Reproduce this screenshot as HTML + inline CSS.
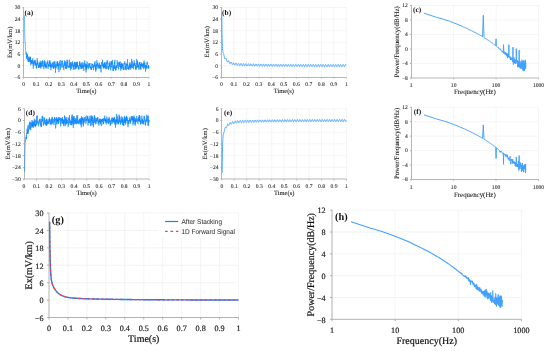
<!DOCTYPE html>
<html><head><meta charset="utf-8"><title>figure</title>
<style>html,body{margin:0;padding:0;background:#fff;width:550px;height:351px;overflow:hidden}svg{display:block;text-rendering:geometricPrecision}</style>
</head><body>
<svg width="550" height="351" viewBox="0 0 550 351">
<line x1="23.6" y1="7.5" x2="149" y2="7.5" stroke="#efefef" stroke-width="0.6"/>
<line x1="23.6" y1="19.13" x2="149" y2="19.13" stroke="#efefef" stroke-width="0.6"/>
<line x1="23.6" y1="30.77" x2="149" y2="30.77" stroke="#efefef" stroke-width="0.6"/>
<line x1="23.6" y1="42.4" x2="149" y2="42.4" stroke="#efefef" stroke-width="0.6"/>
<line x1="23.6" y1="54.03" x2="149" y2="54.03" stroke="#efefef" stroke-width="0.6"/>
<line x1="23.6" y1="65.67" x2="149" y2="65.67" stroke="#efefef" stroke-width="0.6"/>
<line x1="36.14" y1="7.5" x2="36.14" y2="77.3" stroke="#efefef" stroke-width="0.6"/>
<line x1="48.68" y1="7.5" x2="48.68" y2="77.3" stroke="#efefef" stroke-width="0.6"/>
<line x1="61.22" y1="7.5" x2="61.22" y2="77.3" stroke="#efefef" stroke-width="0.6"/>
<line x1="73.76" y1="7.5" x2="73.76" y2="77.3" stroke="#efefef" stroke-width="0.6"/>
<line x1="86.3" y1="7.5" x2="86.3" y2="77.3" stroke="#efefef" stroke-width="0.6"/>
<line x1="98.84" y1="7.5" x2="98.84" y2="77.3" stroke="#efefef" stroke-width="0.6"/>
<line x1="111.38" y1="7.5" x2="111.38" y2="77.3" stroke="#efefef" stroke-width="0.6"/>
<line x1="123.92" y1="7.5" x2="123.92" y2="77.3" stroke="#efefef" stroke-width="0.6"/>
<line x1="136.46" y1="7.5" x2="136.46" y2="77.3" stroke="#efefef" stroke-width="0.6"/>
<line x1="149" y1="7.5" x2="149" y2="77.3" stroke="#efefef" stroke-width="0.6"/>
<line x1="23.5" y1="7.2" x2="23.5" y2="77.5" stroke="#a9a9a9" stroke-width="0.85"/>
<line x1="23.5" y1="77.5" x2="149" y2="77.5" stroke="#a9a9a9" stroke-width="0.85"/>
<line x1="22.3" y1="7.5" x2="23.6" y2="7.5" stroke="#a9a9a9" stroke-width="0.85"/>
<line x1="22.3" y1="19.13" x2="23.6" y2="19.13" stroke="#a9a9a9" stroke-width="0.85"/>
<line x1="22.3" y1="30.77" x2="23.6" y2="30.77" stroke="#a9a9a9" stroke-width="0.85"/>
<line x1="22.3" y1="42.4" x2="23.6" y2="42.4" stroke="#a9a9a9" stroke-width="0.85"/>
<line x1="22.3" y1="54.03" x2="23.6" y2="54.03" stroke="#a9a9a9" stroke-width="0.85"/>
<line x1="22.3" y1="65.67" x2="23.6" y2="65.67" stroke="#a9a9a9" stroke-width="0.85"/>
<line x1="22.3" y1="77.3" x2="23.6" y2="77.3" stroke="#a9a9a9" stroke-width="0.85"/>
<line x1="23.6" y1="77.3" x2="23.6" y2="78.6" stroke="#a9a9a9" stroke-width="0.85"/>
<line x1="36.14" y1="77.3" x2="36.14" y2="78.6" stroke="#a9a9a9" stroke-width="0.85"/>
<line x1="48.68" y1="77.3" x2="48.68" y2="78.6" stroke="#a9a9a9" stroke-width="0.85"/>
<line x1="61.22" y1="77.3" x2="61.22" y2="78.6" stroke="#a9a9a9" stroke-width="0.85"/>
<line x1="73.76" y1="77.3" x2="73.76" y2="78.6" stroke="#a9a9a9" stroke-width="0.85"/>
<line x1="86.3" y1="77.3" x2="86.3" y2="78.6" stroke="#a9a9a9" stroke-width="0.85"/>
<line x1="98.84" y1="77.3" x2="98.84" y2="78.6" stroke="#a9a9a9" stroke-width="0.85"/>
<line x1="111.38" y1="77.3" x2="111.38" y2="78.6" stroke="#a9a9a9" stroke-width="0.85"/>
<line x1="123.92" y1="77.3" x2="123.92" y2="78.6" stroke="#a9a9a9" stroke-width="0.85"/>
<line x1="136.46" y1="77.3" x2="136.46" y2="78.6" stroke="#a9a9a9" stroke-width="0.85"/>
<line x1="149" y1="77.3" x2="149" y2="78.6" stroke="#a9a9a9" stroke-width="0.85"/>
<text transform="translate(20.3 9.4) scale(0.1)" font-size="56" text-anchor="end" fill="#222222" font-weight="normal" font-family="'Liberation Serif', 'Times New Roman', serif" stroke="#222222" stroke-width="0.7">30</text>
<text transform="translate(20.3 21.04) scale(0.1)" font-size="56" text-anchor="end" fill="#222222" font-weight="normal" font-family="'Liberation Serif', 'Times New Roman', serif" stroke="#222222" stroke-width="0.7">24</text>
<text transform="translate(20.3 32.67) scale(0.1)" font-size="56" text-anchor="end" fill="#222222" font-weight="normal" font-family="'Liberation Serif', 'Times New Roman', serif" stroke="#222222" stroke-width="0.7">18</text>
<text transform="translate(20.3 44.3) scale(0.1)" font-size="56" text-anchor="end" fill="#222222" font-weight="normal" font-family="'Liberation Serif', 'Times New Roman', serif" stroke="#222222" stroke-width="0.7">12</text>
<text transform="translate(20.3 55.94) scale(0.1)" font-size="56" text-anchor="end" fill="#222222" font-weight="normal" font-family="'Liberation Serif', 'Times New Roman', serif" stroke="#222222" stroke-width="0.7">6</text>
<text transform="translate(20.3 67.57) scale(0.1)" font-size="56" text-anchor="end" fill="#222222" font-weight="normal" font-family="'Liberation Serif', 'Times New Roman', serif" stroke="#222222" stroke-width="0.7">0</text>
<text transform="translate(20.3 79.2) scale(0.1)" font-size="56" text-anchor="end" fill="#222222" font-weight="normal" font-family="'Liberation Serif', 'Times New Roman', serif" stroke="#222222" stroke-width="0.7">−6</text>
<text transform="translate(23.6 85.8) scale(0.1)" font-size="56" text-anchor="middle" fill="#222222" font-weight="normal" font-family="'Liberation Serif', 'Times New Roman', serif" stroke="#222222" stroke-width="0.7">0</text>
<text transform="translate(36.14 85.8) scale(0.1)" font-size="56" text-anchor="middle" fill="#222222" font-weight="normal" font-family="'Liberation Serif', 'Times New Roman', serif" stroke="#222222" stroke-width="0.7">0.1</text>
<text transform="translate(48.68 85.8) scale(0.1)" font-size="56" text-anchor="middle" fill="#222222" font-weight="normal" font-family="'Liberation Serif', 'Times New Roman', serif" stroke="#222222" stroke-width="0.7">0.2</text>
<text transform="translate(61.22 85.8) scale(0.1)" font-size="56" text-anchor="middle" fill="#222222" font-weight="normal" font-family="'Liberation Serif', 'Times New Roman', serif" stroke="#222222" stroke-width="0.7">0.3</text>
<text transform="translate(73.76 85.8) scale(0.1)" font-size="56" text-anchor="middle" fill="#222222" font-weight="normal" font-family="'Liberation Serif', 'Times New Roman', serif" stroke="#222222" stroke-width="0.7">0.4</text>
<text transform="translate(86.3 85.8) scale(0.1)" font-size="56" text-anchor="middle" fill="#222222" font-weight="normal" font-family="'Liberation Serif', 'Times New Roman', serif" stroke="#222222" stroke-width="0.7">0.5</text>
<text transform="translate(98.84 85.8) scale(0.1)" font-size="56" text-anchor="middle" fill="#222222" font-weight="normal" font-family="'Liberation Serif', 'Times New Roman', serif" stroke="#222222" stroke-width="0.7">0.6</text>
<text transform="translate(111.38 85.8) scale(0.1)" font-size="56" text-anchor="middle" fill="#222222" font-weight="normal" font-family="'Liberation Serif', 'Times New Roman', serif" stroke="#222222" stroke-width="0.7">0.7</text>
<text transform="translate(123.92 85.8) scale(0.1)" font-size="56" text-anchor="middle" fill="#222222" font-weight="normal" font-family="'Liberation Serif', 'Times New Roman', serif" stroke="#222222" stroke-width="0.7">0.8</text>
<text transform="translate(136.46 85.8) scale(0.1)" font-size="56" text-anchor="middle" fill="#222222" font-weight="normal" font-family="'Liberation Serif', 'Times New Roman', serif" stroke="#222222" stroke-width="0.7">0.9</text>
<text transform="translate(149 85.8) scale(0.1)" font-size="56" text-anchor="middle" fill="#222222" font-weight="normal" font-family="'Liberation Serif', 'Times New Roman', serif" stroke="#222222" stroke-width="0.7">1</text>
<text transform="translate(86.3 92.71) scale(0.1)" font-size="65" text-anchor="middle" fill="#111111" font-weight="normal" font-family="'Liberation Serif', 'Times New Roman', serif" stroke="#111111" stroke-width="0.7">Time(s)</text>
<text transform="translate(12.31 42.4) rotate(-90) scale(0.1)" font-size="65" text-anchor="middle" fill="#111111" font-weight="normal" font-family="'Liberation Serif', 'Times New Roman', serif" stroke="#111111" stroke-width="0.7">Ex(mV/km)</text>
<text transform="translate(24.6 15.2) scale(0.1)" font-size="74" text-anchor="start" fill="#111111" font-weight="bold" font-family="'Liberation Serif', 'Times New Roman', serif">(a)</text>
<line x1="221.4" y1="7.5" x2="346.3" y2="7.5" stroke="#efefef" stroke-width="0.6"/>
<line x1="221.4" y1="19.13" x2="346.3" y2="19.13" stroke="#efefef" stroke-width="0.6"/>
<line x1="221.4" y1="30.77" x2="346.3" y2="30.77" stroke="#efefef" stroke-width="0.6"/>
<line x1="221.4" y1="42.4" x2="346.3" y2="42.4" stroke="#efefef" stroke-width="0.6"/>
<line x1="221.4" y1="54.03" x2="346.3" y2="54.03" stroke="#efefef" stroke-width="0.6"/>
<line x1="221.4" y1="65.67" x2="346.3" y2="65.67" stroke="#efefef" stroke-width="0.6"/>
<line x1="233.89" y1="7.5" x2="233.89" y2="77.3" stroke="#efefef" stroke-width="0.6"/>
<line x1="246.38" y1="7.5" x2="246.38" y2="77.3" stroke="#efefef" stroke-width="0.6"/>
<line x1="258.87" y1="7.5" x2="258.87" y2="77.3" stroke="#efefef" stroke-width="0.6"/>
<line x1="271.36" y1="7.5" x2="271.36" y2="77.3" stroke="#efefef" stroke-width="0.6"/>
<line x1="283.85" y1="7.5" x2="283.85" y2="77.3" stroke="#efefef" stroke-width="0.6"/>
<line x1="296.34" y1="7.5" x2="296.34" y2="77.3" stroke="#efefef" stroke-width="0.6"/>
<line x1="308.83" y1="7.5" x2="308.83" y2="77.3" stroke="#efefef" stroke-width="0.6"/>
<line x1="321.32" y1="7.5" x2="321.32" y2="77.3" stroke="#efefef" stroke-width="0.6"/>
<line x1="333.81" y1="7.5" x2="333.81" y2="77.3" stroke="#efefef" stroke-width="0.6"/>
<line x1="346.3" y1="7.5" x2="346.3" y2="77.3" stroke="#efefef" stroke-width="0.6"/>
<line x1="221.5" y1="7.2" x2="221.5" y2="77.5" stroke="#a9a9a9" stroke-width="0.85"/>
<line x1="221.5" y1="77.5" x2="346.3" y2="77.5" stroke="#a9a9a9" stroke-width="0.85"/>
<line x1="220.1" y1="7.5" x2="221.4" y2="7.5" stroke="#a9a9a9" stroke-width="0.85"/>
<line x1="220.1" y1="19.13" x2="221.4" y2="19.13" stroke="#a9a9a9" stroke-width="0.85"/>
<line x1="220.1" y1="30.77" x2="221.4" y2="30.77" stroke="#a9a9a9" stroke-width="0.85"/>
<line x1="220.1" y1="42.4" x2="221.4" y2="42.4" stroke="#a9a9a9" stroke-width="0.85"/>
<line x1="220.1" y1="54.03" x2="221.4" y2="54.03" stroke="#a9a9a9" stroke-width="0.85"/>
<line x1="220.1" y1="65.67" x2="221.4" y2="65.67" stroke="#a9a9a9" stroke-width="0.85"/>
<line x1="220.1" y1="77.3" x2="221.4" y2="77.3" stroke="#a9a9a9" stroke-width="0.85"/>
<line x1="221.4" y1="77.3" x2="221.4" y2="78.6" stroke="#a9a9a9" stroke-width="0.85"/>
<line x1="233.89" y1="77.3" x2="233.89" y2="78.6" stroke="#a9a9a9" stroke-width="0.85"/>
<line x1="246.38" y1="77.3" x2="246.38" y2="78.6" stroke="#a9a9a9" stroke-width="0.85"/>
<line x1="258.87" y1="77.3" x2="258.87" y2="78.6" stroke="#a9a9a9" stroke-width="0.85"/>
<line x1="271.36" y1="77.3" x2="271.36" y2="78.6" stroke="#a9a9a9" stroke-width="0.85"/>
<line x1="283.85" y1="77.3" x2="283.85" y2="78.6" stroke="#a9a9a9" stroke-width="0.85"/>
<line x1="296.34" y1="77.3" x2="296.34" y2="78.6" stroke="#a9a9a9" stroke-width="0.85"/>
<line x1="308.83" y1="77.3" x2="308.83" y2="78.6" stroke="#a9a9a9" stroke-width="0.85"/>
<line x1="321.32" y1="77.3" x2="321.32" y2="78.6" stroke="#a9a9a9" stroke-width="0.85"/>
<line x1="333.81" y1="77.3" x2="333.81" y2="78.6" stroke="#a9a9a9" stroke-width="0.85"/>
<line x1="346.3" y1="77.3" x2="346.3" y2="78.6" stroke="#a9a9a9" stroke-width="0.85"/>
<text transform="translate(218.1 9.4) scale(0.1)" font-size="56" text-anchor="end" fill="#222222" font-weight="normal" font-family="'Liberation Serif', 'Times New Roman', serif" stroke="#222222" stroke-width="0.7">30</text>
<text transform="translate(218.1 21.04) scale(0.1)" font-size="56" text-anchor="end" fill="#222222" font-weight="normal" font-family="'Liberation Serif', 'Times New Roman', serif" stroke="#222222" stroke-width="0.7">24</text>
<text transform="translate(218.1 32.67) scale(0.1)" font-size="56" text-anchor="end" fill="#222222" font-weight="normal" font-family="'Liberation Serif', 'Times New Roman', serif" stroke="#222222" stroke-width="0.7">18</text>
<text transform="translate(218.1 44.3) scale(0.1)" font-size="56" text-anchor="end" fill="#222222" font-weight="normal" font-family="'Liberation Serif', 'Times New Roman', serif" stroke="#222222" stroke-width="0.7">12</text>
<text transform="translate(218.1 55.94) scale(0.1)" font-size="56" text-anchor="end" fill="#222222" font-weight="normal" font-family="'Liberation Serif', 'Times New Roman', serif" stroke="#222222" stroke-width="0.7">6</text>
<text transform="translate(218.1 67.57) scale(0.1)" font-size="56" text-anchor="end" fill="#222222" font-weight="normal" font-family="'Liberation Serif', 'Times New Roman', serif" stroke="#222222" stroke-width="0.7">0</text>
<text transform="translate(218.1 79.2) scale(0.1)" font-size="56" text-anchor="end" fill="#222222" font-weight="normal" font-family="'Liberation Serif', 'Times New Roman', serif" stroke="#222222" stroke-width="0.7">−6</text>
<text transform="translate(221.4 85.8) scale(0.1)" font-size="56" text-anchor="middle" fill="#222222" font-weight="normal" font-family="'Liberation Serif', 'Times New Roman', serif" stroke="#222222" stroke-width="0.7">0</text>
<text transform="translate(233.89 85.8) scale(0.1)" font-size="56" text-anchor="middle" fill="#222222" font-weight="normal" font-family="'Liberation Serif', 'Times New Roman', serif" stroke="#222222" stroke-width="0.7">0.1</text>
<text transform="translate(246.38 85.8) scale(0.1)" font-size="56" text-anchor="middle" fill="#222222" font-weight="normal" font-family="'Liberation Serif', 'Times New Roman', serif" stroke="#222222" stroke-width="0.7">0.2</text>
<text transform="translate(258.87 85.8) scale(0.1)" font-size="56" text-anchor="middle" fill="#222222" font-weight="normal" font-family="'Liberation Serif', 'Times New Roman', serif" stroke="#222222" stroke-width="0.7">0.3</text>
<text transform="translate(271.36 85.8) scale(0.1)" font-size="56" text-anchor="middle" fill="#222222" font-weight="normal" font-family="'Liberation Serif', 'Times New Roman', serif" stroke="#222222" stroke-width="0.7">0.4</text>
<text transform="translate(283.85 85.8) scale(0.1)" font-size="56" text-anchor="middle" fill="#222222" font-weight="normal" font-family="'Liberation Serif', 'Times New Roman', serif" stroke="#222222" stroke-width="0.7">0.5</text>
<text transform="translate(296.34 85.8) scale(0.1)" font-size="56" text-anchor="middle" fill="#222222" font-weight="normal" font-family="'Liberation Serif', 'Times New Roman', serif" stroke="#222222" stroke-width="0.7">0.6</text>
<text transform="translate(308.83 85.8) scale(0.1)" font-size="56" text-anchor="middle" fill="#222222" font-weight="normal" font-family="'Liberation Serif', 'Times New Roman', serif" stroke="#222222" stroke-width="0.7">0.7</text>
<text transform="translate(321.32 85.8) scale(0.1)" font-size="56" text-anchor="middle" fill="#222222" font-weight="normal" font-family="'Liberation Serif', 'Times New Roman', serif" stroke="#222222" stroke-width="0.7">0.8</text>
<text transform="translate(333.81 85.8) scale(0.1)" font-size="56" text-anchor="middle" fill="#222222" font-weight="normal" font-family="'Liberation Serif', 'Times New Roman', serif" stroke="#222222" stroke-width="0.7">0.9</text>
<text transform="translate(346.3 85.8) scale(0.1)" font-size="56" text-anchor="middle" fill="#222222" font-weight="normal" font-family="'Liberation Serif', 'Times New Roman', serif" stroke="#222222" stroke-width="0.7">1</text>
<text transform="translate(283.85 92.71) scale(0.1)" font-size="65" text-anchor="middle" fill="#111111" font-weight="normal" font-family="'Liberation Serif', 'Times New Roman', serif" stroke="#111111" stroke-width="0.7">Time(s)</text>
<text transform="translate(209.21 41.8) rotate(-90) scale(0.1)" font-size="65" text-anchor="middle" fill="#111111" font-weight="normal" font-family="'Liberation Serif', 'Times New Roman', serif" stroke="#111111" stroke-width="0.7">Ex(mV/km)</text>
<text transform="translate(222.1 15.2) scale(0.1)" font-size="74" text-anchor="start" fill="#111111" font-weight="bold" font-family="'Liberation Serif', 'Times New Roman', serif">(b)</text>
<line x1="411.2" y1="5.5" x2="538.5" y2="5.5" stroke="#efefef" stroke-width="0.6"/>
<line x1="411.2" y1="20" x2="538.5" y2="20" stroke="#efefef" stroke-width="0.6"/>
<line x1="411.2" y1="34.5" x2="538.5" y2="34.5" stroke="#efefef" stroke-width="0.6"/>
<line x1="411.2" y1="49" x2="538.5" y2="49" stroke="#efefef" stroke-width="0.6"/>
<line x1="411.2" y1="63.5" x2="538.5" y2="63.5" stroke="#efefef" stroke-width="0.6"/>
<line x1="453.63" y1="5.5" x2="453.63" y2="78" stroke="#efefef" stroke-width="0.6"/>
<line x1="496.07" y1="5.5" x2="496.07" y2="78" stroke="#efefef" stroke-width="0.6"/>
<line x1="538.5" y1="5.5" x2="538.5" y2="78" stroke="#efefef" stroke-width="0.6"/>
<line x1="411.5" y1="5.2" x2="411.5" y2="78" stroke="#a9a9a9" stroke-width="0.85"/>
<line x1="411.5" y1="78" x2="538.5" y2="78" stroke="#a9a9a9" stroke-width="0.85"/>
<line x1="409.9" y1="5.5" x2="411.2" y2="5.5" stroke="#a9a9a9" stroke-width="0.85"/>
<line x1="409.9" y1="20" x2="411.2" y2="20" stroke="#a9a9a9" stroke-width="0.85"/>
<line x1="409.9" y1="34.5" x2="411.2" y2="34.5" stroke="#a9a9a9" stroke-width="0.85"/>
<line x1="409.9" y1="49" x2="411.2" y2="49" stroke="#a9a9a9" stroke-width="0.85"/>
<line x1="409.9" y1="63.5" x2="411.2" y2="63.5" stroke="#a9a9a9" stroke-width="0.85"/>
<line x1="409.9" y1="78" x2="411.2" y2="78" stroke="#a9a9a9" stroke-width="0.85"/>
<line x1="411.2" y1="78" x2="411.2" y2="79.3" stroke="#a9a9a9" stroke-width="0.85"/>
<line x1="453.63" y1="78" x2="453.63" y2="79.3" stroke="#a9a9a9" stroke-width="0.85"/>
<line x1="496.07" y1="78" x2="496.07" y2="79.3" stroke="#a9a9a9" stroke-width="0.85"/>
<line x1="538.5" y1="78" x2="538.5" y2="79.3" stroke="#a9a9a9" stroke-width="0.85"/>
<text transform="translate(407.9 7.4) scale(0.1)" font-size="56" text-anchor="end" fill="#222222" font-weight="normal" font-family="'Liberation Serif', 'Times New Roman', serif" stroke="#222222" stroke-width="0.7">12</text>
<text transform="translate(407.9 21.9) scale(0.1)" font-size="56" text-anchor="end" fill="#222222" font-weight="normal" font-family="'Liberation Serif', 'Times New Roman', serif" stroke="#222222" stroke-width="0.7">8</text>
<text transform="translate(407.9 36.4) scale(0.1)" font-size="56" text-anchor="end" fill="#222222" font-weight="normal" font-family="'Liberation Serif', 'Times New Roman', serif" stroke="#222222" stroke-width="0.7">4</text>
<text transform="translate(407.9 50.9) scale(0.1)" font-size="56" text-anchor="end" fill="#222222" font-weight="normal" font-family="'Liberation Serif', 'Times New Roman', serif" stroke="#222222" stroke-width="0.7">0</text>
<text transform="translate(407.9 65.4) scale(0.1)" font-size="56" text-anchor="end" fill="#222222" font-weight="normal" font-family="'Liberation Serif', 'Times New Roman', serif" stroke="#222222" stroke-width="0.7">−4</text>
<text transform="translate(407.9 79.9) scale(0.1)" font-size="56" text-anchor="end" fill="#222222" font-weight="normal" font-family="'Liberation Serif', 'Times New Roman', serif" stroke="#222222" stroke-width="0.7">−8</text>
<text transform="translate(411.2 86.5) scale(0.1)" font-size="56" text-anchor="middle" fill="#222222" font-weight="normal" font-family="'Liberation Serif', 'Times New Roman', serif" stroke="#222222" stroke-width="0.7">1</text>
<text transform="translate(453.63 86.5) scale(0.1)" font-size="56" text-anchor="middle" fill="#222222" font-weight="normal" font-family="'Liberation Serif', 'Times New Roman', serif" stroke="#222222" stroke-width="0.7">10</text>
<text transform="translate(496.07 86.5) scale(0.1)" font-size="56" text-anchor="middle" fill="#222222" font-weight="normal" font-family="'Liberation Serif', 'Times New Roman', serif" stroke="#222222" stroke-width="0.7">100</text>
<text transform="translate(538.5 86.5) scale(0.1)" font-size="56" text-anchor="middle" fill="#222222" font-weight="normal" font-family="'Liberation Serif', 'Times New Roman', serif" stroke="#222222" stroke-width="0.7">1000</text>
<text transform="translate(474.85 94.15) scale(0.1)" font-size="69" text-anchor="middle" fill="#111111" font-weight="normal" font-family="'Liberation Serif', 'Times New Roman', serif" stroke="#111111" stroke-width="0.7">Frequency(Hz)</text>
<text transform="translate(399.05 41.75) rotate(-90) scale(0.1)" font-size="69" text-anchor="middle" fill="#111111" font-weight="normal" font-family="'Liberation Serif', 'Times New Roman', serif" stroke="#111111" stroke-width="0.7">Power/Frequency(dB/Hz)</text>
<text transform="translate(413 12.2) scale(0.1)" font-size="74" text-anchor="start" fill="#111111" font-weight="bold" font-family="'Liberation Serif', 'Times New Roman', serif">(c)</text>
<line x1="24" y1="108.8" x2="149.2" y2="108.8" stroke="#efefef" stroke-width="0.6"/>
<line x1="24" y1="120.5" x2="149.2" y2="120.5" stroke="#efefef" stroke-width="0.6"/>
<line x1="24" y1="132.2" x2="149.2" y2="132.2" stroke="#efefef" stroke-width="0.6"/>
<line x1="24" y1="143.9" x2="149.2" y2="143.9" stroke="#efefef" stroke-width="0.6"/>
<line x1="24" y1="155.6" x2="149.2" y2="155.6" stroke="#efefef" stroke-width="0.6"/>
<line x1="24" y1="167.3" x2="149.2" y2="167.3" stroke="#efefef" stroke-width="0.6"/>
<line x1="36.52" y1="108.8" x2="36.52" y2="179" stroke="#efefef" stroke-width="0.6"/>
<line x1="49.04" y1="108.8" x2="49.04" y2="179" stroke="#efefef" stroke-width="0.6"/>
<line x1="61.56" y1="108.8" x2="61.56" y2="179" stroke="#efefef" stroke-width="0.6"/>
<line x1="74.08" y1="108.8" x2="74.08" y2="179" stroke="#efefef" stroke-width="0.6"/>
<line x1="86.6" y1="108.8" x2="86.6" y2="179" stroke="#efefef" stroke-width="0.6"/>
<line x1="99.12" y1="108.8" x2="99.12" y2="179" stroke="#efefef" stroke-width="0.6"/>
<line x1="111.64" y1="108.8" x2="111.64" y2="179" stroke="#efefef" stroke-width="0.6"/>
<line x1="124.16" y1="108.8" x2="124.16" y2="179" stroke="#efefef" stroke-width="0.6"/>
<line x1="136.68" y1="108.8" x2="136.68" y2="179" stroke="#efefef" stroke-width="0.6"/>
<line x1="149.2" y1="108.8" x2="149.2" y2="179" stroke="#efefef" stroke-width="0.6"/>
<line x1="24.5" y1="108.5" x2="24.5" y2="179" stroke="#a9a9a9" stroke-width="0.85"/>
<line x1="24.5" y1="179" x2="149.2" y2="179" stroke="#a9a9a9" stroke-width="0.85"/>
<line x1="22.7" y1="108.8" x2="24" y2="108.8" stroke="#a9a9a9" stroke-width="0.85"/>
<line x1="22.7" y1="120.5" x2="24" y2="120.5" stroke="#a9a9a9" stroke-width="0.85"/>
<line x1="22.7" y1="132.2" x2="24" y2="132.2" stroke="#a9a9a9" stroke-width="0.85"/>
<line x1="22.7" y1="143.9" x2="24" y2="143.9" stroke="#a9a9a9" stroke-width="0.85"/>
<line x1="22.7" y1="155.6" x2="24" y2="155.6" stroke="#a9a9a9" stroke-width="0.85"/>
<line x1="22.7" y1="167.3" x2="24" y2="167.3" stroke="#a9a9a9" stroke-width="0.85"/>
<line x1="22.7" y1="179" x2="24" y2="179" stroke="#a9a9a9" stroke-width="0.85"/>
<line x1="24" y1="179" x2="24" y2="180.3" stroke="#a9a9a9" stroke-width="0.85"/>
<line x1="36.52" y1="179" x2="36.52" y2="180.3" stroke="#a9a9a9" stroke-width="0.85"/>
<line x1="49.04" y1="179" x2="49.04" y2="180.3" stroke="#a9a9a9" stroke-width="0.85"/>
<line x1="61.56" y1="179" x2="61.56" y2="180.3" stroke="#a9a9a9" stroke-width="0.85"/>
<line x1="74.08" y1="179" x2="74.08" y2="180.3" stroke="#a9a9a9" stroke-width="0.85"/>
<line x1="86.6" y1="179" x2="86.6" y2="180.3" stroke="#a9a9a9" stroke-width="0.85"/>
<line x1="99.12" y1="179" x2="99.12" y2="180.3" stroke="#a9a9a9" stroke-width="0.85"/>
<line x1="111.64" y1="179" x2="111.64" y2="180.3" stroke="#a9a9a9" stroke-width="0.85"/>
<line x1="124.16" y1="179" x2="124.16" y2="180.3" stroke="#a9a9a9" stroke-width="0.85"/>
<line x1="136.68" y1="179" x2="136.68" y2="180.3" stroke="#a9a9a9" stroke-width="0.85"/>
<line x1="149.2" y1="179" x2="149.2" y2="180.3" stroke="#a9a9a9" stroke-width="0.85"/>
<text transform="translate(20.7 110.7) scale(0.1)" font-size="56" text-anchor="end" fill="#222222" font-weight="normal" font-family="'Liberation Serif', 'Times New Roman', serif" stroke="#222222" stroke-width="0.7">6</text>
<text transform="translate(20.7 122.4) scale(0.1)" font-size="56" text-anchor="end" fill="#222222" font-weight="normal" font-family="'Liberation Serif', 'Times New Roman', serif" stroke="#222222" stroke-width="0.7">0</text>
<text transform="translate(20.7 134.1) scale(0.1)" font-size="56" text-anchor="end" fill="#222222" font-weight="normal" font-family="'Liberation Serif', 'Times New Roman', serif" stroke="#222222" stroke-width="0.7">−6</text>
<text transform="translate(20.7 145.8) scale(0.1)" font-size="56" text-anchor="end" fill="#222222" font-weight="normal" font-family="'Liberation Serif', 'Times New Roman', serif" stroke="#222222" stroke-width="0.7">−12</text>
<text transform="translate(20.7 157.5) scale(0.1)" font-size="56" text-anchor="end" fill="#222222" font-weight="normal" font-family="'Liberation Serif', 'Times New Roman', serif" stroke="#222222" stroke-width="0.7">−18</text>
<text transform="translate(20.7 169.2) scale(0.1)" font-size="56" text-anchor="end" fill="#222222" font-weight="normal" font-family="'Liberation Serif', 'Times New Roman', serif" stroke="#222222" stroke-width="0.7">−24</text>
<text transform="translate(20.7 180.9) scale(0.1)" font-size="56" text-anchor="end" fill="#222222" font-weight="normal" font-family="'Liberation Serif', 'Times New Roman', serif" stroke="#222222" stroke-width="0.7">−30</text>
<text transform="translate(24 187.9) scale(0.1)" font-size="56" text-anchor="middle" fill="#222222" font-weight="normal" font-family="'Liberation Serif', 'Times New Roman', serif" stroke="#222222" stroke-width="0.7">0</text>
<text transform="translate(36.52 187.9) scale(0.1)" font-size="56" text-anchor="middle" fill="#222222" font-weight="normal" font-family="'Liberation Serif', 'Times New Roman', serif" stroke="#222222" stroke-width="0.7">0.1</text>
<text transform="translate(49.04 187.9) scale(0.1)" font-size="56" text-anchor="middle" fill="#222222" font-weight="normal" font-family="'Liberation Serif', 'Times New Roman', serif" stroke="#222222" stroke-width="0.7">0.2</text>
<text transform="translate(61.56 187.9) scale(0.1)" font-size="56" text-anchor="middle" fill="#222222" font-weight="normal" font-family="'Liberation Serif', 'Times New Roman', serif" stroke="#222222" stroke-width="0.7">0.3</text>
<text transform="translate(74.08 187.9) scale(0.1)" font-size="56" text-anchor="middle" fill="#222222" font-weight="normal" font-family="'Liberation Serif', 'Times New Roman', serif" stroke="#222222" stroke-width="0.7">0.4</text>
<text transform="translate(86.6 187.9) scale(0.1)" font-size="56" text-anchor="middle" fill="#222222" font-weight="normal" font-family="'Liberation Serif', 'Times New Roman', serif" stroke="#222222" stroke-width="0.7">0.5</text>
<text transform="translate(99.12 187.9) scale(0.1)" font-size="56" text-anchor="middle" fill="#222222" font-weight="normal" font-family="'Liberation Serif', 'Times New Roman', serif" stroke="#222222" stroke-width="0.7">0.6</text>
<text transform="translate(111.64 187.9) scale(0.1)" font-size="56" text-anchor="middle" fill="#222222" font-weight="normal" font-family="'Liberation Serif', 'Times New Roman', serif" stroke="#222222" stroke-width="0.7">0.7</text>
<text transform="translate(124.16 187.9) scale(0.1)" font-size="56" text-anchor="middle" fill="#222222" font-weight="normal" font-family="'Liberation Serif', 'Times New Roman', serif" stroke="#222222" stroke-width="0.7">0.8</text>
<text transform="translate(136.68 187.9) scale(0.1)" font-size="56" text-anchor="middle" fill="#222222" font-weight="normal" font-family="'Liberation Serif', 'Times New Roman', serif" stroke="#222222" stroke-width="0.7">0.9</text>
<text transform="translate(149.2 187.9) scale(0.1)" font-size="56" text-anchor="middle" fill="#222222" font-weight="normal" font-family="'Liberation Serif', 'Times New Roman', serif" stroke="#222222" stroke-width="0.7">1</text>
<text transform="translate(86.6 195.21) scale(0.1)" font-size="65" text-anchor="middle" fill="#111111" font-weight="normal" font-family="'Liberation Serif', 'Times New Roman', serif" stroke="#111111" stroke-width="0.7">Time(s)</text>
<text transform="translate(9.66 143.9) rotate(-90) scale(0.1)" font-size="65" text-anchor="middle" fill="#111111" font-weight="normal" font-family="'Liberation Serif', 'Times New Roman', serif" stroke="#111111" stroke-width="0.7">Ex(mV/km)</text>
<text transform="translate(25.8 115.1) scale(0.1)" font-size="74" text-anchor="start" fill="#111111" font-weight="bold" font-family="'Liberation Serif', 'Times New Roman', serif">(d)</text>
<line x1="221.8" y1="108.8" x2="346.5" y2="108.8" stroke="#efefef" stroke-width="0.6"/>
<line x1="221.8" y1="120.5" x2="346.5" y2="120.5" stroke="#efefef" stroke-width="0.6"/>
<line x1="221.8" y1="132.2" x2="346.5" y2="132.2" stroke="#efefef" stroke-width="0.6"/>
<line x1="221.8" y1="143.9" x2="346.5" y2="143.9" stroke="#efefef" stroke-width="0.6"/>
<line x1="221.8" y1="155.6" x2="346.5" y2="155.6" stroke="#efefef" stroke-width="0.6"/>
<line x1="221.8" y1="167.3" x2="346.5" y2="167.3" stroke="#efefef" stroke-width="0.6"/>
<line x1="234.27" y1="108.8" x2="234.27" y2="179" stroke="#efefef" stroke-width="0.6"/>
<line x1="246.74" y1="108.8" x2="246.74" y2="179" stroke="#efefef" stroke-width="0.6"/>
<line x1="259.21" y1="108.8" x2="259.21" y2="179" stroke="#efefef" stroke-width="0.6"/>
<line x1="271.68" y1="108.8" x2="271.68" y2="179" stroke="#efefef" stroke-width="0.6"/>
<line x1="284.15" y1="108.8" x2="284.15" y2="179" stroke="#efefef" stroke-width="0.6"/>
<line x1="296.62" y1="108.8" x2="296.62" y2="179" stroke="#efefef" stroke-width="0.6"/>
<line x1="309.09" y1="108.8" x2="309.09" y2="179" stroke="#efefef" stroke-width="0.6"/>
<line x1="321.56" y1="108.8" x2="321.56" y2="179" stroke="#efefef" stroke-width="0.6"/>
<line x1="334.03" y1="108.8" x2="334.03" y2="179" stroke="#efefef" stroke-width="0.6"/>
<line x1="346.5" y1="108.8" x2="346.5" y2="179" stroke="#efefef" stroke-width="0.6"/>
<line x1="221.5" y1="108.5" x2="221.5" y2="179" stroke="#a9a9a9" stroke-width="0.85"/>
<line x1="221.5" y1="179" x2="346.5" y2="179" stroke="#a9a9a9" stroke-width="0.85"/>
<line x1="220.5" y1="108.8" x2="221.8" y2="108.8" stroke="#a9a9a9" stroke-width="0.85"/>
<line x1="220.5" y1="120.5" x2="221.8" y2="120.5" stroke="#a9a9a9" stroke-width="0.85"/>
<line x1="220.5" y1="132.2" x2="221.8" y2="132.2" stroke="#a9a9a9" stroke-width="0.85"/>
<line x1="220.5" y1="143.9" x2="221.8" y2="143.9" stroke="#a9a9a9" stroke-width="0.85"/>
<line x1="220.5" y1="155.6" x2="221.8" y2="155.6" stroke="#a9a9a9" stroke-width="0.85"/>
<line x1="220.5" y1="167.3" x2="221.8" y2="167.3" stroke="#a9a9a9" stroke-width="0.85"/>
<line x1="220.5" y1="179" x2="221.8" y2="179" stroke="#a9a9a9" stroke-width="0.85"/>
<line x1="221.8" y1="179" x2="221.8" y2="180.3" stroke="#a9a9a9" stroke-width="0.85"/>
<line x1="234.27" y1="179" x2="234.27" y2="180.3" stroke="#a9a9a9" stroke-width="0.85"/>
<line x1="246.74" y1="179" x2="246.74" y2="180.3" stroke="#a9a9a9" stroke-width="0.85"/>
<line x1="259.21" y1="179" x2="259.21" y2="180.3" stroke="#a9a9a9" stroke-width="0.85"/>
<line x1="271.68" y1="179" x2="271.68" y2="180.3" stroke="#a9a9a9" stroke-width="0.85"/>
<line x1="284.15" y1="179" x2="284.15" y2="180.3" stroke="#a9a9a9" stroke-width="0.85"/>
<line x1="296.62" y1="179" x2="296.62" y2="180.3" stroke="#a9a9a9" stroke-width="0.85"/>
<line x1="309.09" y1="179" x2="309.09" y2="180.3" stroke="#a9a9a9" stroke-width="0.85"/>
<line x1="321.56" y1="179" x2="321.56" y2="180.3" stroke="#a9a9a9" stroke-width="0.85"/>
<line x1="334.03" y1="179" x2="334.03" y2="180.3" stroke="#a9a9a9" stroke-width="0.85"/>
<line x1="346.5" y1="179" x2="346.5" y2="180.3" stroke="#a9a9a9" stroke-width="0.85"/>
<text transform="translate(218.5 110.7) scale(0.1)" font-size="56" text-anchor="end" fill="#222222" font-weight="normal" font-family="'Liberation Serif', 'Times New Roman', serif" stroke="#222222" stroke-width="0.7">6</text>
<text transform="translate(218.5 122.4) scale(0.1)" font-size="56" text-anchor="end" fill="#222222" font-weight="normal" font-family="'Liberation Serif', 'Times New Roman', serif" stroke="#222222" stroke-width="0.7">0</text>
<text transform="translate(218.5 134.1) scale(0.1)" font-size="56" text-anchor="end" fill="#222222" font-weight="normal" font-family="'Liberation Serif', 'Times New Roman', serif" stroke="#222222" stroke-width="0.7">−6</text>
<text transform="translate(218.5 145.8) scale(0.1)" font-size="56" text-anchor="end" fill="#222222" font-weight="normal" font-family="'Liberation Serif', 'Times New Roman', serif" stroke="#222222" stroke-width="0.7">−12</text>
<text transform="translate(218.5 157.5) scale(0.1)" font-size="56" text-anchor="end" fill="#222222" font-weight="normal" font-family="'Liberation Serif', 'Times New Roman', serif" stroke="#222222" stroke-width="0.7">−18</text>
<text transform="translate(218.5 169.2) scale(0.1)" font-size="56" text-anchor="end" fill="#222222" font-weight="normal" font-family="'Liberation Serif', 'Times New Roman', serif" stroke="#222222" stroke-width="0.7">−24</text>
<text transform="translate(218.5 180.9) scale(0.1)" font-size="56" text-anchor="end" fill="#222222" font-weight="normal" font-family="'Liberation Serif', 'Times New Roman', serif" stroke="#222222" stroke-width="0.7">−30</text>
<text transform="translate(221.8 187.9) scale(0.1)" font-size="56" text-anchor="middle" fill="#222222" font-weight="normal" font-family="'Liberation Serif', 'Times New Roman', serif" stroke="#222222" stroke-width="0.7">0</text>
<text transform="translate(234.27 187.9) scale(0.1)" font-size="56" text-anchor="middle" fill="#222222" font-weight="normal" font-family="'Liberation Serif', 'Times New Roman', serif" stroke="#222222" stroke-width="0.7">0.1</text>
<text transform="translate(246.74 187.9) scale(0.1)" font-size="56" text-anchor="middle" fill="#222222" font-weight="normal" font-family="'Liberation Serif', 'Times New Roman', serif" stroke="#222222" stroke-width="0.7">0.2</text>
<text transform="translate(259.21 187.9) scale(0.1)" font-size="56" text-anchor="middle" fill="#222222" font-weight="normal" font-family="'Liberation Serif', 'Times New Roman', serif" stroke="#222222" stroke-width="0.7">0.3</text>
<text transform="translate(271.68 187.9) scale(0.1)" font-size="56" text-anchor="middle" fill="#222222" font-weight="normal" font-family="'Liberation Serif', 'Times New Roman', serif" stroke="#222222" stroke-width="0.7">0.4</text>
<text transform="translate(284.15 187.9) scale(0.1)" font-size="56" text-anchor="middle" fill="#222222" font-weight="normal" font-family="'Liberation Serif', 'Times New Roman', serif" stroke="#222222" stroke-width="0.7">0.5</text>
<text transform="translate(296.62 187.9) scale(0.1)" font-size="56" text-anchor="middle" fill="#222222" font-weight="normal" font-family="'Liberation Serif', 'Times New Roman', serif" stroke="#222222" stroke-width="0.7">0.6</text>
<text transform="translate(309.09 187.9) scale(0.1)" font-size="56" text-anchor="middle" fill="#222222" font-weight="normal" font-family="'Liberation Serif', 'Times New Roman', serif" stroke="#222222" stroke-width="0.7">0.7</text>
<text transform="translate(321.56 187.9) scale(0.1)" font-size="56" text-anchor="middle" fill="#222222" font-weight="normal" font-family="'Liberation Serif', 'Times New Roman', serif" stroke="#222222" stroke-width="0.7">0.8</text>
<text transform="translate(334.03 187.9) scale(0.1)" font-size="56" text-anchor="middle" fill="#222222" font-weight="normal" font-family="'Liberation Serif', 'Times New Roman', serif" stroke="#222222" stroke-width="0.7">0.9</text>
<text transform="translate(346.5 187.9) scale(0.1)" font-size="56" text-anchor="middle" fill="#222222" font-weight="normal" font-family="'Liberation Serif', 'Times New Roman', serif" stroke="#222222" stroke-width="0.7">1</text>
<text transform="translate(284.15 195.21) scale(0.1)" font-size="65" text-anchor="middle" fill="#111111" font-weight="normal" font-family="'Liberation Serif', 'Times New Roman', serif" stroke="#111111" stroke-width="0.7">Time(s)</text>
<text transform="translate(206.81 143.9) rotate(-90) scale(0.1)" font-size="65" text-anchor="middle" fill="#111111" font-weight="normal" font-family="'Liberation Serif', 'Times New Roman', serif" stroke="#111111" stroke-width="0.7">Ex(mV/km)</text>
<text transform="translate(224 115.1) scale(0.1)" font-size="74" text-anchor="start" fill="#111111" font-weight="bold" font-family="'Liberation Serif', 'Times New Roman', serif">(e)</text>
<line x1="411.2" y1="107.2" x2="538.5" y2="107.2" stroke="#efefef" stroke-width="0.6"/>
<line x1="411.2" y1="121.66" x2="538.5" y2="121.66" stroke="#efefef" stroke-width="0.6"/>
<line x1="411.2" y1="136.12" x2="538.5" y2="136.12" stroke="#efefef" stroke-width="0.6"/>
<line x1="411.2" y1="150.58" x2="538.5" y2="150.58" stroke="#efefef" stroke-width="0.6"/>
<line x1="411.2" y1="165.04" x2="538.5" y2="165.04" stroke="#efefef" stroke-width="0.6"/>
<line x1="453.63" y1="107.2" x2="453.63" y2="179.5" stroke="#efefef" stroke-width="0.6"/>
<line x1="496.07" y1="107.2" x2="496.07" y2="179.5" stroke="#efefef" stroke-width="0.6"/>
<line x1="538.5" y1="107.2" x2="538.5" y2="179.5" stroke="#efefef" stroke-width="0.6"/>
<line x1="411.5" y1="106.9" x2="411.5" y2="179.5" stroke="#a9a9a9" stroke-width="0.85"/>
<line x1="411.5" y1="179.5" x2="538.5" y2="179.5" stroke="#a9a9a9" stroke-width="0.85"/>
<line x1="409.9" y1="107.2" x2="411.2" y2="107.2" stroke="#a9a9a9" stroke-width="0.85"/>
<line x1="409.9" y1="121.66" x2="411.2" y2="121.66" stroke="#a9a9a9" stroke-width="0.85"/>
<line x1="409.9" y1="136.12" x2="411.2" y2="136.12" stroke="#a9a9a9" stroke-width="0.85"/>
<line x1="409.9" y1="150.58" x2="411.2" y2="150.58" stroke="#a9a9a9" stroke-width="0.85"/>
<line x1="409.9" y1="165.04" x2="411.2" y2="165.04" stroke="#a9a9a9" stroke-width="0.85"/>
<line x1="409.9" y1="179.5" x2="411.2" y2="179.5" stroke="#a9a9a9" stroke-width="0.85"/>
<line x1="411.2" y1="179.5" x2="411.2" y2="180.8" stroke="#a9a9a9" stroke-width="0.85"/>
<line x1="453.63" y1="179.5" x2="453.63" y2="180.8" stroke="#a9a9a9" stroke-width="0.85"/>
<line x1="496.07" y1="179.5" x2="496.07" y2="180.8" stroke="#a9a9a9" stroke-width="0.85"/>
<line x1="538.5" y1="179.5" x2="538.5" y2="180.8" stroke="#a9a9a9" stroke-width="0.85"/>
<text transform="translate(407.9 109.1) scale(0.1)" font-size="56" text-anchor="end" fill="#222222" font-weight="normal" font-family="'Liberation Serif', 'Times New Roman', serif" stroke="#222222" stroke-width="0.7">12</text>
<text transform="translate(407.9 123.56) scale(0.1)" font-size="56" text-anchor="end" fill="#222222" font-weight="normal" font-family="'Liberation Serif', 'Times New Roman', serif" stroke="#222222" stroke-width="0.7">8</text>
<text transform="translate(407.9 138.02) scale(0.1)" font-size="56" text-anchor="end" fill="#222222" font-weight="normal" font-family="'Liberation Serif', 'Times New Roman', serif" stroke="#222222" stroke-width="0.7">4</text>
<text transform="translate(407.9 152.48) scale(0.1)" font-size="56" text-anchor="end" fill="#222222" font-weight="normal" font-family="'Liberation Serif', 'Times New Roman', serif" stroke="#222222" stroke-width="0.7">0</text>
<text transform="translate(407.9 166.94) scale(0.1)" font-size="56" text-anchor="end" fill="#222222" font-weight="normal" font-family="'Liberation Serif', 'Times New Roman', serif" stroke="#222222" stroke-width="0.7">−4</text>
<text transform="translate(407.9 181.4) scale(0.1)" font-size="56" text-anchor="end" fill="#222222" font-weight="normal" font-family="'Liberation Serif', 'Times New Roman', serif" stroke="#222222" stroke-width="0.7">−8</text>
<text transform="translate(411.2 188.8) scale(0.1)" font-size="56" text-anchor="middle" fill="#222222" font-weight="normal" font-family="'Liberation Serif', 'Times New Roman', serif" stroke="#222222" stroke-width="0.7">1</text>
<text transform="translate(453.63 188.8) scale(0.1)" font-size="56" text-anchor="middle" fill="#222222" font-weight="normal" font-family="'Liberation Serif', 'Times New Roman', serif" stroke="#222222" stroke-width="0.7">10</text>
<text transform="translate(496.07 188.8) scale(0.1)" font-size="56" text-anchor="middle" fill="#222222" font-weight="normal" font-family="'Liberation Serif', 'Times New Roman', serif" stroke="#222222" stroke-width="0.7">100</text>
<text transform="translate(538.5 188.8) scale(0.1)" font-size="56" text-anchor="middle" fill="#222222" font-weight="normal" font-family="'Liberation Serif', 'Times New Roman', serif" stroke="#222222" stroke-width="0.7">1000</text>
<text transform="translate(474.85 196.75) scale(0.1)" font-size="69" text-anchor="middle" fill="#111111" font-weight="normal" font-family="'Liberation Serif', 'Times New Roman', serif" stroke="#111111" stroke-width="0.7">Frequency(Hz)</text>
<text transform="translate(399.05 143.35) rotate(-90) scale(0.1)" font-size="69" text-anchor="middle" fill="#111111" font-weight="normal" font-family="'Liberation Serif', 'Times New Roman', serif" stroke="#111111" stroke-width="0.7">Power/Frequency(dB/Hz)</text>
<text transform="translate(413.8 113.8) scale(0.1)" font-size="74" text-anchor="start" fill="#111111" font-weight="bold" font-family="'Liberation Serif', 'Times New Roman', serif">(f)</text>
<line x1="49" y1="213" x2="238.5" y2="213" stroke="#efefef" stroke-width="0.7"/>
<line x1="49" y1="230.42" x2="238.5" y2="230.42" stroke="#efefef" stroke-width="0.7"/>
<line x1="49" y1="247.83" x2="238.5" y2="247.83" stroke="#efefef" stroke-width="0.7"/>
<line x1="49" y1="265.25" x2="238.5" y2="265.25" stroke="#efefef" stroke-width="0.7"/>
<line x1="49" y1="282.67" x2="238.5" y2="282.67" stroke="#efefef" stroke-width="0.7"/>
<line x1="49" y1="300.08" x2="238.5" y2="300.08" stroke="#efefef" stroke-width="0.7"/>
<line x1="67.95" y1="213" x2="67.95" y2="317.5" stroke="#efefef" stroke-width="0.7"/>
<line x1="86.9" y1="213" x2="86.9" y2="317.5" stroke="#efefef" stroke-width="0.7"/>
<line x1="105.85" y1="213" x2="105.85" y2="317.5" stroke="#efefef" stroke-width="0.7"/>
<line x1="124.8" y1="213" x2="124.8" y2="317.5" stroke="#efefef" stroke-width="0.7"/>
<line x1="143.75" y1="213" x2="143.75" y2="317.5" stroke="#efefef" stroke-width="0.7"/>
<line x1="162.7" y1="213" x2="162.7" y2="317.5" stroke="#efefef" stroke-width="0.7"/>
<line x1="181.65" y1="213" x2="181.65" y2="317.5" stroke="#efefef" stroke-width="0.7"/>
<line x1="200.6" y1="213" x2="200.6" y2="317.5" stroke="#efefef" stroke-width="0.7"/>
<line x1="219.55" y1="213" x2="219.55" y2="317.5" stroke="#efefef" stroke-width="0.7"/>
<line x1="238.5" y1="213" x2="238.5" y2="317.5" stroke="#efefef" stroke-width="0.7"/>
<line x1="49" y1="212.7" x2="49" y2="317.5" stroke="#a9a9a9" stroke-width="0.9"/>
<line x1="49" y1="317.5" x2="238.5" y2="317.5" stroke="#a9a9a9" stroke-width="0.9"/>
<line x1="47" y1="213" x2="49" y2="213" stroke="#a9a9a9" stroke-width="0.9"/>
<line x1="47" y1="230.42" x2="49" y2="230.42" stroke="#a9a9a9" stroke-width="0.9"/>
<line x1="47" y1="247.83" x2="49" y2="247.83" stroke="#a9a9a9" stroke-width="0.9"/>
<line x1="47" y1="265.25" x2="49" y2="265.25" stroke="#a9a9a9" stroke-width="0.9"/>
<line x1="47" y1="282.67" x2="49" y2="282.67" stroke="#a9a9a9" stroke-width="0.9"/>
<line x1="47" y1="300.08" x2="49" y2="300.08" stroke="#a9a9a9" stroke-width="0.9"/>
<line x1="47" y1="317.5" x2="49" y2="317.5" stroke="#a9a9a9" stroke-width="0.9"/>
<line x1="49" y1="317.5" x2="49" y2="319.5" stroke="#a9a9a9" stroke-width="0.9"/>
<line x1="67.95" y1="317.5" x2="67.95" y2="319.5" stroke="#a9a9a9" stroke-width="0.9"/>
<line x1="86.9" y1="317.5" x2="86.9" y2="319.5" stroke="#a9a9a9" stroke-width="0.9"/>
<line x1="105.85" y1="317.5" x2="105.85" y2="319.5" stroke="#a9a9a9" stroke-width="0.9"/>
<line x1="124.8" y1="317.5" x2="124.8" y2="319.5" stroke="#a9a9a9" stroke-width="0.9"/>
<line x1="143.75" y1="317.5" x2="143.75" y2="319.5" stroke="#a9a9a9" stroke-width="0.9"/>
<line x1="162.7" y1="317.5" x2="162.7" y2="319.5" stroke="#a9a9a9" stroke-width="0.9"/>
<line x1="181.65" y1="317.5" x2="181.65" y2="319.5" stroke="#a9a9a9" stroke-width="0.9"/>
<line x1="200.6" y1="317.5" x2="200.6" y2="319.5" stroke="#a9a9a9" stroke-width="0.9"/>
<line x1="219.55" y1="317.5" x2="219.55" y2="319.5" stroke="#a9a9a9" stroke-width="0.9"/>
<line x1="238.5" y1="317.5" x2="238.5" y2="319.5" stroke="#a9a9a9" stroke-width="0.9"/>
<text transform="translate(43.5 216.29) scale(0.1)" font-size="82" text-anchor="end" fill="#222222" font-weight="normal" font-family="'Liberation Serif', 'Times New Roman', serif" stroke="#222222" stroke-width="2">30</text>
<text transform="translate(43.5 233.7) scale(0.1)" font-size="82" text-anchor="end" fill="#222222" font-weight="normal" font-family="'Liberation Serif', 'Times New Roman', serif" stroke="#222222" stroke-width="2">24</text>
<text transform="translate(43.5 251.12) scale(0.1)" font-size="82" text-anchor="end" fill="#222222" font-weight="normal" font-family="'Liberation Serif', 'Times New Roman', serif" stroke="#222222" stroke-width="2">18</text>
<text transform="translate(43.5 268.54) scale(0.1)" font-size="82" text-anchor="end" fill="#222222" font-weight="normal" font-family="'Liberation Serif', 'Times New Roman', serif" stroke="#222222" stroke-width="2">12</text>
<text transform="translate(43.5 285.95) scale(0.1)" font-size="82" text-anchor="end" fill="#222222" font-weight="normal" font-family="'Liberation Serif', 'Times New Roman', serif" stroke="#222222" stroke-width="2">6</text>
<text transform="translate(43.5 303.37) scale(0.1)" font-size="82" text-anchor="end" fill="#222222" font-weight="normal" font-family="'Liberation Serif', 'Times New Roman', serif" stroke="#222222" stroke-width="2">0</text>
<text transform="translate(43.5 320.79) scale(0.1)" font-size="82" text-anchor="end" fill="#222222" font-weight="normal" font-family="'Liberation Serif', 'Times New Roman', serif" stroke="#222222" stroke-width="2">−6</text>
<text transform="translate(49 330.79) scale(0.1)" font-size="82" text-anchor="middle" fill="#222222" font-weight="normal" font-family="'Liberation Serif', 'Times New Roman', serif" stroke="#222222" stroke-width="2">0</text>
<text transform="translate(67.95 330.79) scale(0.1)" font-size="82" text-anchor="middle" fill="#222222" font-weight="normal" font-family="'Liberation Serif', 'Times New Roman', serif" stroke="#222222" stroke-width="2">0.1</text>
<text transform="translate(86.9 330.79) scale(0.1)" font-size="82" text-anchor="middle" fill="#222222" font-weight="normal" font-family="'Liberation Serif', 'Times New Roman', serif" stroke="#222222" stroke-width="2">0.2</text>
<text transform="translate(105.85 330.79) scale(0.1)" font-size="82" text-anchor="middle" fill="#222222" font-weight="normal" font-family="'Liberation Serif', 'Times New Roman', serif" stroke="#222222" stroke-width="2">0.3</text>
<text transform="translate(124.8 330.79) scale(0.1)" font-size="82" text-anchor="middle" fill="#222222" font-weight="normal" font-family="'Liberation Serif', 'Times New Roman', serif" stroke="#222222" stroke-width="2">0.4</text>
<text transform="translate(143.75 330.79) scale(0.1)" font-size="82" text-anchor="middle" fill="#222222" font-weight="normal" font-family="'Liberation Serif', 'Times New Roman', serif" stroke="#222222" stroke-width="2">0.5</text>
<text transform="translate(162.7 330.79) scale(0.1)" font-size="82" text-anchor="middle" fill="#222222" font-weight="normal" font-family="'Liberation Serif', 'Times New Roman', serif" stroke="#222222" stroke-width="2">0.6</text>
<text transform="translate(181.65 330.79) scale(0.1)" font-size="82" text-anchor="middle" fill="#222222" font-weight="normal" font-family="'Liberation Serif', 'Times New Roman', serif" stroke="#222222" stroke-width="2">0.7</text>
<text transform="translate(200.6 330.79) scale(0.1)" font-size="82" text-anchor="middle" fill="#222222" font-weight="normal" font-family="'Liberation Serif', 'Times New Roman', serif" stroke="#222222" stroke-width="2">0.8</text>
<text transform="translate(219.55 330.79) scale(0.1)" font-size="82" text-anchor="middle" fill="#222222" font-weight="normal" font-family="'Liberation Serif', 'Times New Roman', serif" stroke="#222222" stroke-width="2">0.9</text>
<text transform="translate(238.5 330.79) scale(0.1)" font-size="82" text-anchor="middle" fill="#222222" font-weight="normal" font-family="'Liberation Serif', 'Times New Roman', serif" stroke="#222222" stroke-width="2">1</text>
<text transform="translate(143.75 342.2) scale(0.1)" font-size="100" text-anchor="middle" fill="#111111" font-weight="normal" font-family="'Liberation Serif', 'Times New Roman', serif" stroke="#111111" stroke-width="2">Time(s)</text>
<text transform="translate(32.4 265.25) rotate(-90) scale(0.1)" font-size="100" text-anchor="middle" fill="#111111" font-weight="normal" font-family="'Liberation Serif', 'Times New Roman', serif" stroke="#111111" stroke-width="2">Ex(mV/km)</text>
<text transform="translate(51.8 222.5) scale(0.1)" font-size="103" text-anchor="start" fill="#111111" font-weight="bold" font-family="'Liberation Serif', 'Times New Roman', serif">(g)</text>
<line x1="332" y1="210.2" x2="521.4" y2="210.2" stroke="#efefef" stroke-width="0.7"/>
<line x1="332" y1="232.02" x2="521.4" y2="232.02" stroke="#efefef" stroke-width="0.7"/>
<line x1="332" y1="253.84" x2="521.4" y2="253.84" stroke="#efefef" stroke-width="0.7"/>
<line x1="332" y1="275.66" x2="521.4" y2="275.66" stroke="#efefef" stroke-width="0.7"/>
<line x1="332" y1="297.48" x2="521.4" y2="297.48" stroke="#efefef" stroke-width="0.7"/>
<line x1="395.13" y1="210.2" x2="395.13" y2="319.3" stroke="#efefef" stroke-width="0.7"/>
<line x1="458.27" y1="210.2" x2="458.27" y2="319.3" stroke="#efefef" stroke-width="0.7"/>
<line x1="521.4" y1="210.2" x2="521.4" y2="319.3" stroke="#efefef" stroke-width="0.7"/>
<line x1="332" y1="209.9" x2="332" y2="319.3" stroke="#a9a9a9" stroke-width="0.9"/>
<line x1="332" y1="319.3" x2="521.4" y2="319.3" stroke="#a9a9a9" stroke-width="0.9"/>
<line x1="330" y1="210.2" x2="332" y2="210.2" stroke="#a9a9a9" stroke-width="0.9"/>
<line x1="330" y1="232.02" x2="332" y2="232.02" stroke="#a9a9a9" stroke-width="0.9"/>
<line x1="330" y1="253.84" x2="332" y2="253.84" stroke="#a9a9a9" stroke-width="0.9"/>
<line x1="330" y1="275.66" x2="332" y2="275.66" stroke="#a9a9a9" stroke-width="0.9"/>
<line x1="330" y1="297.48" x2="332" y2="297.48" stroke="#a9a9a9" stroke-width="0.9"/>
<line x1="330" y1="319.3" x2="332" y2="319.3" stroke="#a9a9a9" stroke-width="0.9"/>
<line x1="332" y1="319.3" x2="332" y2="321.3" stroke="#a9a9a9" stroke-width="0.9"/>
<line x1="395.13" y1="319.3" x2="395.13" y2="321.3" stroke="#a9a9a9" stroke-width="0.9"/>
<line x1="458.27" y1="319.3" x2="458.27" y2="321.3" stroke="#a9a9a9" stroke-width="0.9"/>
<line x1="521.4" y1="319.3" x2="521.4" y2="321.3" stroke="#a9a9a9" stroke-width="0.9"/>
<text transform="translate(325.7 213.49) scale(0.1)" font-size="82" text-anchor="end" fill="#222222" font-weight="normal" font-family="'Liberation Serif', 'Times New Roman', serif" stroke="#222222" stroke-width="2">12</text>
<text transform="translate(325.7 235.31) scale(0.1)" font-size="82" text-anchor="end" fill="#222222" font-weight="normal" font-family="'Liberation Serif', 'Times New Roman', serif" stroke="#222222" stroke-width="2">8</text>
<text transform="translate(325.7 257.13) scale(0.1)" font-size="82" text-anchor="end" fill="#222222" font-weight="normal" font-family="'Liberation Serif', 'Times New Roman', serif" stroke="#222222" stroke-width="2">4</text>
<text transform="translate(325.7 278.95) scale(0.1)" font-size="82" text-anchor="end" fill="#222222" font-weight="normal" font-family="'Liberation Serif', 'Times New Roman', serif" stroke="#222222" stroke-width="2">0</text>
<text transform="translate(325.7 300.77) scale(0.1)" font-size="82" text-anchor="end" fill="#222222" font-weight="normal" font-family="'Liberation Serif', 'Times New Roman', serif" stroke="#222222" stroke-width="2">−4</text>
<text transform="translate(325.7 322.59) scale(0.1)" font-size="82" text-anchor="end" fill="#222222" font-weight="normal" font-family="'Liberation Serif', 'Times New Roman', serif" stroke="#222222" stroke-width="2">−8</text>
<text transform="translate(332 332.59) scale(0.1)" font-size="82" text-anchor="middle" fill="#222222" font-weight="normal" font-family="'Liberation Serif', 'Times New Roman', serif" stroke="#222222" stroke-width="2">1</text>
<text transform="translate(395.13 332.59) scale(0.1)" font-size="82" text-anchor="middle" fill="#222222" font-weight="normal" font-family="'Liberation Serif', 'Times New Roman', serif" stroke="#222222" stroke-width="2">10</text>
<text transform="translate(458.27 332.59) scale(0.1)" font-size="82" text-anchor="middle" fill="#222222" font-weight="normal" font-family="'Liberation Serif', 'Times New Roman', serif" stroke="#222222" stroke-width="2">100</text>
<text transform="translate(521.4 332.59) scale(0.1)" font-size="82" text-anchor="middle" fill="#222222" font-weight="normal" font-family="'Liberation Serif', 'Times New Roman', serif" stroke="#222222" stroke-width="2">1000</text>
<text transform="translate(426.7 344.4) scale(0.1)" font-size="100" text-anchor="middle" fill="#111111" font-weight="normal" font-family="'Liberation Serif', 'Times New Roman', serif" stroke="#111111" stroke-width="2">Frequency(Hz)</text>
<text transform="translate(313.9 264.75) rotate(-90) scale(0.1)" font-size="100" text-anchor="middle" fill="#111111" font-weight="normal" font-family="'Liberation Serif', 'Times New Roman', serif" stroke="#111111" stroke-width="2">Power/Frequency(dB/Hz)</text>
<text transform="translate(335 220.4) scale(0.1)" font-size="103" text-anchor="start" fill="#111111" font-weight="bold" font-family="'Liberation Serif', 'Times New Roman', serif">(h)</text>
<polyline points="24.4,15.26 24.52,22.4 24.65,29.79 24.77,35.43 24.9,39.05 25.02,42.33 25.15,43.06 25.27,42.75 25.4,47.22 25.52,49.66 25.65,49.58 25.77,51.13 25.9,52.16 26.02,54.47 26.14,53.07 26.27,52.44 26.39,57.52 26.52,56.19 26.64,58.85 26.77,56.79 26.89,57.17 27.02,53.77 27.14,56.39 27.27,54 27.39,54.67 27.52,55.34 27.64,59.9 27.76,56.12 27.89,56.09 28.01,57.23 28.14,61.93 28.26,60.52 28.39,61.59 28.51,61.05 28.64,57.33 28.76,61.68 28.89,60.76 29.01,59.12 29.13,61.59 29.26,59.6 29.38,58.21 29.51,57.98 29.63,60.94 29.76,58.86 29.88,56.53 30.01,62.25 30.13,57.02 30.26,58.63 30.38,61.01 30.51,56.96 30.63,60.71 30.75,65.31 30.88,62.65 31,61.32 31.13,62.86 31.25,61.52 31.38,63.61 31.5,62.24 31.63,60.06 31.75,63.24 31.88,60.43 32,61.37 32.13,60.43 32.25,63.6 32.37,62.56 32.5,61.51 32.62,58.89 32.75,58.42 32.87,64.21 33,64.4 33.12,62.64 33.25,68.56 33.37,65.32 33.5,64.22 33.62,61.39 33.75,62.93 33.87,65.51 33.99,65.68 34.12,64.78 34.24,60.01 34.37,62.91 34.49,62.21 34.62,61.1 34.74,62.51 34.87,62.83 34.99,64.4 35.12,61.73 35.24,62.61 35.36,60.06 35.49,62.35 35.61,64.87 35.74,63.98 35.86,65.88 35.99,62.66 36.11,64.72 36.24,63.88 36.36,68.19 36.49,64.91 36.61,68.38 36.74,67.9 36.86,63.29 36.98,64.04 37.11,62.07 37.23,58.27 37.36,64.68 37.48,63.94 37.61,61.81 37.73,61.21 37.86,63.29 37.98,64.58 38.11,63.86 38.23,64.74 38.36,67.74 38.48,65.4 38.6,65.06 38.73,67.63 38.85,65.43 38.98,67.75 39.1,63.34 39.23,63.73 39.35,62.85 39.48,63.76 39.6,62.99 39.73,67.24 39.85,65.61 39.98,62.25 40.1,66.87 40.22,60.79 40.35,66.78 40.47,62.9 40.6,67.28 40.72,64.48 40.85,65.63 40.97,68.62 41.1,62.83 41.22,62.79 41.35,66.33 41.47,66.79 41.59,65.87 41.72,66.33 41.84,61.01 41.97,63.87 42.09,63.06 42.22,64.99 42.34,64.78 42.47,65.78 42.59,60.16 42.72,63.01 42.84,61.44 42.97,64.59 43.09,67.15 43.21,66.9 43.34,67.2 43.46,65.64 43.59,66.3 43.71,66.49 43.84,69.16 43.96,68.03 44.09,62.33 44.21,65.86 44.34,65.54 44.46,62.22 44.59,60.23 44.71,66.47 44.83,64.07 44.96,64.6 45.08,66.44 45.21,61.33 45.33,63.58 45.46,64.6 45.58,67.39 45.71,65.43 45.83,67.28 45.96,66.06 46.08,67.91 46.2,68.47 46.33,63.75 46.45,67.53 46.58,65.21 46.7,64.67 46.83,64.4 46.95,64.05 47.08,61.91 47.2,64.23 47.33,64.05 47.45,63.37 47.58,60.56 47.7,61.54 47.82,62.85 47.95,65.99 48.07,68.77 48.2,64.52 48.32,64.31 48.45,66.15 48.57,64.64 48.7,64.5 48.82,64.86 48.95,64.72 49.07,66.82 49.2,61.61 49.32,66.12 49.44,61.34 49.57,62.28 49.69,61.92 49.82,60 49.94,60.47 50.07,65.37 50.19,66.44 50.32,62.05 50.44,66.99 50.57,66.06 50.69,64.82 50.82,69.7 50.94,70.24 51.06,65.29 51.19,66.07 51.31,67.13 51.44,66.59 51.56,67.72 51.69,67.84 51.81,64 51.94,65.15 52.06,66.7 52.19,62.74 52.31,64.02 52.44,62.74 52.56,65.12 52.68,64.42 52.81,65.81 52.93,66.8 53.06,65.71 53.18,68.19 53.31,65.7 53.43,65.32 53.56,61.77 53.68,69.06 53.81,64.89 53.93,66.91 54.05,66.06 54.18,67.78 54.3,64.66 54.43,61.72 54.55,63.58 54.68,63.67 54.8,64.55 54.93,61.28 55.05,63.21 55.18,67.62 55.3,65.25 55.43,69.06 55.55,72.78 55.67,67.74 55.8,63.77 55.92,65.97 56.05,68.33 56.17,68.2 56.3,64.45 56.42,66.47 56.55,65.99 56.67,64.99 56.8,63.7 56.92,61.65 57.05,62.35 57.17,63.45 57.29,66.14 57.42,62.64 57.54,64.62 57.67,60.97 57.79,66.48 57.92,65.39 58.04,66.23 58.17,69.41 58.29,63.03 58.42,63.15 58.54,66.94 58.67,64.77 58.79,66.03 58.91,72.16 59.04,65.63 59.16,65.06 59.29,63.66 59.41,65.54 59.54,64.07 59.66,64.3 59.79,61.65 59.91,63.05 60.04,63.28 60.16,60.13 60.28,65.08 60.41,65.95 60.53,69.97 60.66,63.57 60.78,64.62 60.91,64.31 61.03,64.69 61.16,66.16 61.28,66.42 61.41,67.4 61.53,66.61 61.66,64.88 61.78,60.8 61.9,62.26 62.03,63.69 62.15,65.17 62.28,65.41 62.4,60.52 62.53,62.29 62.65,63.15 62.78,64.7 62.9,67.46 63.03,66.45 63.15,65.03 63.28,67.43 63.4,66.68 63.52,66.55 63.65,66.21 63.77,70.14 63.9,67.41 64.02,67.98 64.15,63.23 64.27,65.49 64.4,62.26 64.52,60.51 64.65,64.67 64.77,65.38 64.9,63.43 65.02,63.37 65.14,65.36 65.27,63.1 65.39,61.14 65.52,66.88 65.64,67.26 65.77,68.8 65.89,65.61 66.02,68.68 66.14,68.73 66.27,64.34 66.39,68.82 66.51,64.08 66.64,61.97 66.76,63.44 66.89,62.35 67.01,59.68 67.14,64.47 67.26,65.41 67.39,66.62 67.51,63.32 67.64,60.36 67.76,62.12 67.89,67.2 68.01,68.14 68.13,67.91 68.26,66.12 68.38,66.72 68.51,65.74 68.63,65.91 68.76,67.59 68.88,67.1 69.01,65.89 69.13,65.28 69.26,62.98 69.38,59.7 69.51,62.49 69.63,64 69.75,67.67 69.88,63.11 70,67.4 70.13,66.28 70.25,62.37 70.38,63.88 70.5,66.74 70.63,70.4 70.75,67.5 70.88,67.72 71,64.91 71.12,61.95 71.25,66.57 71.37,68.64 71.5,68.73 71.62,65.26 71.75,64.39 71.87,65.89 72,63.49 72.12,66.49 72.25,62.01 72.37,61.77 72.5,61.26 72.62,64.41 72.74,63.1 72.87,65.62 72.99,67.26 73.12,67.65 73.24,69.43 73.37,69.31 73.49,64.63 73.62,66.97 73.74,66.61 73.87,65.04 73.99,69.91 74.12,66.77 74.24,63.71 74.36,62.78 74.49,64.53 74.61,62.08 74.74,63.87 74.86,66.44 74.99,65.4 75.11,61.83 75.24,63.23 75.36,69.25 75.49,63.75 75.61,65.77 75.74,64.08 75.86,67.18 75.98,66.88 76.11,68.9 76.23,61.91 76.36,67.47 76.48,63.18 76.61,66.52 76.73,63.76 76.86,67.01 76.98,64.57 77.11,62.2 77.23,66.88 77.36,61.81 77.48,62.85 77.6,65.63 77.73,65.23 77.85,66.35 77.98,66.63 78.1,68.11 78.23,68.52 78.35,67.04 78.48,68.39 78.6,69.26 78.73,67.2 78.85,65.34 78.97,69.55 79.1,65.23 79.22,65.45 79.35,65.63 79.47,62.08 79.6,65.29 79.72,61.31 79.85,65.61 79.97,62.77 80.1,63.99 80.22,65.77 80.35,64.24 80.47,66.87 80.59,65.81 80.72,66.96 80.84,68.66 80.97,66.54 81.09,66.56 81.22,65.18 81.34,69.01 81.47,66.54 81.59,68.76 81.72,62.82 81.84,65.86 81.97,67.52 82.09,64.38 82.21,62.13 82.34,67.15 82.46,65.8 82.59,65.07 82.71,66.55 82.84,64.69 82.96,68.22 83.09,68.53 83.21,65.7 83.34,68.01 83.46,65.47 83.58,68.67 83.71,69.62 83.83,70.92 83.96,62.7 84.08,65.93 84.21,63.68 84.33,63.75 84.46,63.54 84.58,64.18 84.71,60.52 84.83,66.18 84.96,66.78 85.08,65.64 85.2,66.99 85.33,63.97 85.45,64.93 85.58,69.05 85.7,69.74 85.83,67.22 85.95,63.54 86.08,72.45 86.2,66.1 86.33,69.4 86.45,64.39 86.58,67.5 86.7,64.78 86.82,66.77 86.95,65.87 87.07,61.48 87.2,62.76 87.32,64.91 87.45,65.4 87.57,67.45 87.7,65.1 87.82,65.57 87.95,66.79 88.07,67.3 88.2,69.22 88.32,66.65 88.44,66.47 88.57,64.1 88.69,63.4 88.82,67.51 88.94,68.09 89.07,65.46 89.19,65.45 89.32,65.24 89.44,64.02 89.57,66.44 89.69,63.21 89.81,64.32 89.94,63.14 90.06,63.99 90.19,65.8 90.31,67.46 90.44,67.12 90.56,68.25 90.69,66.47 90.81,66.55 90.94,69.19 91.06,66.61 91.19,69.95 91.31,68.5 91.43,67.15 91.56,69.57 91.68,64.05 91.81,63.44 91.93,64.25 92.06,65.2 92.18,65.22 92.31,66.12 92.43,64.22 92.56,64.76 92.68,64.15 92.81,68 92.93,66.18 93.05,66.85 93.18,67.26 93.3,67.45 93.43,65.31 93.55,70.16 93.68,66.29 93.8,66.77 93.93,65.99 94.05,64.58 94.18,65.58 94.3,64.29 94.43,62.64 94.55,63.48 94.67,64.06 94.8,67.23 94.92,62.59 95.05,61.27 95.17,62.3 95.3,65.08 95.42,69.84 95.55,65.24 95.67,67.28 95.8,71.73 95.92,65.68 96.05,69.82 96.17,69.89 96.29,68.57 96.42,63.99 96.54,66.13 96.67,63.71 96.79,60.22 96.92,60.71 97.04,64.58 97.17,64.99 97.29,66.73 97.42,65.11 97.54,62.8 97.66,63.56 97.79,65.35 97.91,64.66 98.04,68.75 98.16,67.11 98.29,65.1 98.41,65.27 98.54,64.62 98.66,66.45 98.79,67.93 98.91,65.86 99.04,67.43 99.16,67.62 99.28,62.61 99.41,64.08 99.53,63.76 99.66,67.97 99.78,64.92 99.91,64.93 100.03,65.44 100.16,68.97 100.28,66.27 100.41,64.87 100.53,66.42 100.66,68.24 100.78,66.63 100.9,64.93 101.03,72.43 101.15,67.53 101.28,66.2 101.4,65.22 101.53,61.94 101.65,61.98 101.78,63.17 101.9,63.37 102.03,62.8 102.15,65.62 102.27,64.27 102.4,61.88 102.52,59.71 102.65,64.72 102.77,65.7 102.9,66.31 103.02,64.47 103.15,67.09 103.27,63.62 103.4,68.46 103.52,67.2 103.65,67.69 103.77,65.72 103.89,64.49 104.02,68.49 104.14,66.17 104.27,63.13 104.39,65.34 104.52,67.51 104.64,62.42 104.77,63.2 104.89,62.73 105.02,64.67 105.14,62.31 105.27,66.1 105.39,64.49 105.51,69.07 105.64,68.78 105.76,66.21 105.89,67.93 106.01,65.46 106.14,66.77 106.26,69.21 106.39,66.49 106.51,66.14 106.64,62.45 106.76,65.12 106.89,64.9 107.01,61.96 107.13,59.99 107.26,60.14 107.38,63.62 107.51,63.27 107.63,61.3 107.76,65.88 107.88,68.72 108.01,66.99 108.13,66.13 108.26,68.32 108.38,69.86 108.51,69.77 108.63,65.96 108.75,68.89 108.88,66.93 109,65.01 109.13,63.07 109.25,64.52 109.38,63 109.5,66.25 109.63,65.29 109.75,66.31 109.88,61.46 110,63.78 110.12,65.93 110.25,66.35 110.37,67.2 110.5,65.81 110.62,70.31 110.75,68.76 110.87,67.29 111,61.7 111.12,65.38 111.25,67.58 111.37,65.21 111.5,61.26 111.62,64.81 111.74,64.6 111.87,61.56 111.99,63.44 112.12,63.2 112.24,65.27 112.37,59.85 112.49,60.26 112.62,63.29 112.74,64.25 112.87,70.88 112.99,65.95 113.12,67.46 113.24,65.77 113.36,65.14 113.49,67.56 113.61,70.77 113.74,66.62 113.86,68.17 113.99,66.13 114.11,65.58 114.24,64.55 114.36,68.74 114.49,61.98 114.61,64.06 114.74,61.98 114.86,59.75 114.98,63.7 115.11,68.12 115.23,67.48 115.36,69.22 115.48,68.28 115.61,66.92 115.73,70.74 115.86,65.84 115.98,69.95 116.11,66.73 116.23,67.6 116.35,67.31 116.48,65.61 116.6,65.45 116.73,65.11 116.85,67.47 116.98,64.52 117.1,60.83 117.23,60.22 117.35,61.1 117.48,62.32 117.6,65.83 117.73,62.73 117.85,66.89 117.97,67.4 118.1,67.68 118.22,66.48 118.35,67.43 118.47,67.05 118.6,69.56 118.72,68.14 118.85,62.04 118.97,65.62 119.1,64.85 119.22,62.79 119.35,62.61 119.47,66.74 119.59,65.02 119.72,62.39 119.84,63.25 119.97,63.51 120.09,61.3 120.22,67.05 120.34,66.61 120.47,68.33 120.59,64.06 120.72,70.65 120.84,67.92 120.97,67.97 121.09,66 121.21,66.15 121.34,63.85 121.46,68.69 121.59,62.84 121.71,64.48 121.84,65.42 121.96,63.38 122.09,66.47 122.21,68.49 122.34,64.56 122.46,66.82 122.58,65.79 122.71,64.92 122.83,66.15 122.96,64.05 123.08,67.51 123.21,69.81 123.33,68.1 123.46,68.77 123.58,69.84 123.71,66.51 123.83,68.01 123.96,69.51 124.08,62.96 124.2,64.12 124.33,63.34 124.45,64.27 124.58,63.32 124.7,64.19 124.83,61.29 124.95,62.91 125.08,63.68 125.2,64.85 125.33,69.76 125.45,67.62 125.58,67.63 125.7,66.27 125.82,69.33 125.95,63.58 126.07,67.16 126.2,69.87 126.32,70.18 126.45,66.07 126.57,64.57 126.7,65.36 126.82,63.89 126.95,65.79 127.07,63.49 127.2,65.75 127.32,63.89 127.44,61.79 127.57,59.25 127.69,67.74 127.82,67.75 127.94,69 128.07,65.52 128.19,69.04 128.32,67.56 128.44,66.97 128.57,69.37 128.69,69.36 128.81,67.68 128.94,69.78 129.06,67.33 129.19,64.74 129.31,63.78 129.44,64.87 129.56,68.23 129.69,65.23 129.81,62.19 129.94,62.66 130.06,64.65 130.19,67.5 130.31,65.52 130.43,68.47 130.56,69.5 130.68,68.34 130.81,63.63 130.93,66.47 131.06,65.02 131.18,68.39 131.31,64.8 131.43,66.73 131.56,64.72 131.68,58.84 131.81,62.52 131.93,65.52 132.05,64.8 132.18,63.62 132.3,61.36 132.43,64.79 132.55,68.04 132.68,66.27 132.8,66.78 132.93,67.08 133.05,64.44 133.18,66.06 133.3,64.93 133.43,69.16 133.55,65.62 133.67,63.15 133.8,65.14 133.92,64.99 134.05,64.09 134.17,60.27 134.3,65.98 134.42,64.73 134.55,63.69 134.67,62.78 134.8,64.72 134.92,63.17 135.04,65.06 135.17,65.46 135.29,67.08 135.42,69.63 135.54,67.17 135.67,64.93 135.79,68.56 135.92,67.42 136.04,66.04 136.17,69.6 136.29,66.35 136.42,67.67 136.54,62.09 136.66,59.21 136.79,59.98 136.91,64.95 137.04,63.13 137.16,64.05 137.29,63.63 137.41,60.65 137.54,67.19 137.66,63.56 137.79,66.92 137.91,64.44 138.04,66.75 138.16,68.09 138.28,66.03 138.41,65.43 138.53,67.32 138.66,66.43 138.78,67.79 138.91,69.86 139.03,62.58 139.16,62.5 139.28,63.8 139.41,64.37 139.53,62.53 139.66,65.23 139.78,65.28 139.9,64.19 140.03,62.09 140.15,68.54 140.28,64.4 140.4,68.62 140.53,69.38 140.65,64.16 140.78,66.79 140.9,69.58 141.03,68.13 141.15,65.53 141.27,64.3 141.4,66.39 141.52,63.59 141.65,62.47 141.77,65.41 141.9,63.79 142.02,64.71 142.15,65.4 142.27,64.84 142.4,63.67 142.52,64.45 142.65,66.87 142.77,67.7 142.89,65.05 143.02,66.7 143.14,64.92 143.27,64.15 143.39,65.74 143.52,62.78 143.64,69.11 143.77,65.09 143.89,66.17 144.02,60.64 144.14,60.46 144.27,68.08 144.39,66.49 144.51,63.29 144.64,62.7 144.76,62.35 144.89,63.96 145.01,63.59 145.14,64.39 145.26,66.99 145.39,65.23 145.51,71.74 145.64,65.44 145.76,68.71 145.89,64.99 146.01,67.87 146.13,69.25 146.26,65.98 146.38,67.38 146.51,66.28 146.63,67.12 146.76,64.16 146.88,63.51 147.01,62.57 147.13,64.6 147.26,61.72 147.38,63.78 147.5,64.71 147.63,64.56 147.75,64.68 147.88,68.02 148,67.64 148.13,67.06 148.25,66.44 148.38,68.78 148.5,65.31 148.63,68.26 148.75,65.8 148.88,67.21" fill="none" stroke="#0a84ff" stroke-width="0.6" stroke-linejoin="round"/>
<polyline points="221.8,13.5 221.92,24.97 222.05,33.24 222.17,39.21 222.3,43.49 222.42,46.55 222.55,48.71 222.67,50.21 222.8,51.22 222.92,51.9 223.04,52.36 223.17,52.69 223.29,52.96 223.42,53.23 223.54,53.55 223.67,53.94 223.79,54.4 223.92,54.94 224.04,55.54 224.17,56.17 224.29,56.81 224.41,57.42 224.54,57.96 224.66,58.41 224.79,58.75 224.91,58.97 225.04,59.07 225.16,59.07 225.29,58.97 225.41,58.82 225.53,58.64 225.66,58.47 225.78,58.35 225.91,58.31 226.03,58.36 226.16,58.52 226.28,58.78 226.41,59.14 226.53,59.58 226.66,60.06 226.78,60.56 226.9,61.04 227.03,61.46 227.15,61.79 227.28,62.02 227.4,62.13 227.53,62.13 227.65,62.02 227.78,61.83 227.9,61.59 228.03,61.32 228.15,61.07 228.27,60.86 228.4,60.74 228.52,60.71 228.65,60.79 228.77,60.99 228.9,61.28 229.02,61.65 229.15,62.07 229.27,62.5 229.39,62.91 229.52,63.27 229.64,63.55 229.77,63.73 229.89,63.79 230.02,63.73 230.14,63.57 230.27,63.33 230.39,63.04 230.52,62.73 230.64,62.43 230.76,62.19 230.89,62.02 231.01,61.95 231.14,62 231.26,62.15 231.39,62.41 231.51,62.74 231.64,63.13 231.76,63.53 231.88,63.92 232.01,64.25 232.13,64.49 232.26,64.64 232.38,64.67 232.51,64.59 232.63,64.41 232.76,64.14 232.88,63.83 233.01,63.49 233.13,63.17 233.25,62.9 233.38,62.72 233.5,62.63 233.63,62.66 233.75,62.79 233.88,63.03 234,63.35 234.13,63.72 234.25,64.1 234.37,64.47 234.5,64.78 234.62,65.02 234.75,65.15 234.87,65.17 235,65.07 235.12,64.88 235.25,64.6 235.37,64.27 235.5,63.92 235.62,63.59 235.74,63.31 235.87,63.11 235.99,63.02 236.12,63.03 236.24,63.16 236.37,63.39 236.49,63.7 236.62,64.06 236.74,64.43 236.86,64.79 236.99,65.1 237.11,65.32 237.24,65.45 237.36,65.46 237.49,65.36 237.61,65.15 237.74,64.87 237.86,64.53 237.99,64.18 238.11,63.85 238.23,63.56 238.36,63.36 238.48,63.25 238.61,63.26 238.73,63.39 238.86,63.61 238.98,63.91 239.11,64.27 239.23,64.64 239.35,65 239.48,65.3 239.6,65.52 239.73,65.64 239.85,65.65 239.98,65.54 240.1,65.33 240.23,65.05 240.35,64.71 240.47,64.35 240.6,64.01 240.72,63.72 240.85,63.52 240.97,63.41 241.1,63.42 241.22,63.54 241.35,63.76 241.47,64.06 241.6,64.41 241.72,64.78 241.84,65.14 241.97,65.44 242.09,65.65 242.22,65.77 242.34,65.78 242.47,65.67 242.59,65.46 242.72,65.17 242.84,64.83 242.97,64.47 243.09,64.13 243.21,63.84 243.34,63.63 243.46,63.53 243.59,63.53 243.71,63.65 243.84,63.87 243.96,64.17 244.09,64.52 244.21,64.89 244.33,65.24 244.46,65.54 244.58,65.76 244.71,65.87 244.83,65.88 244.96,65.77 245.08,65.56 245.21,65.27 245.33,64.93 245.46,64.57 245.58,64.23 245.7,63.94 245.83,63.73 245.95,63.62 246.08,63.62 246.2,63.74 246.33,63.96 246.45,64.26 246.58,64.61 246.7,64.98 246.82,65.32 246.95,65.62 247.07,65.84 247.2,65.96 247.32,65.96 247.45,65.85 247.57,65.64 247.7,65.35 247.82,65.01 247.95,64.65 248.07,64.3 248.19,64.01 248.32,63.8 248.44,63.69 248.57,63.7 248.69,63.81 248.82,64.03 248.94,64.33 249.07,64.68 249.19,65.05 249.31,65.4 249.44,65.69 249.56,65.91 249.69,66.03 249.81,66.03 249.94,65.92 250.06,65.71 250.19,65.42 250.31,65.07 250.44,64.71 250.56,64.37 250.68,64.08 250.81,63.87 250.93,63.76 251.06,63.76 251.18,63.88 251.31,64.1 251.43,64.4 251.56,64.74 251.68,65.11 251.8,65.46 251.93,65.76 252.05,65.97 252.18,66.09 252.3,66.09 252.43,65.98 252.55,65.77 252.68,65.48 252.8,65.13 252.93,64.77 253.05,64.43 253.17,64.14 253.3,63.93 253.42,63.82 253.55,63.82 253.67,63.94 253.8,64.16 253.92,64.45 254.05,64.8 254.17,65.17 254.29,65.52 254.42,65.81 254.54,66.03 254.67,66.15 254.79,66.15 254.92,66.04 255.04,65.83 255.17,65.53 255.29,65.19 255.42,64.83 255.54,64.48 255.66,64.19 255.79,63.98 255.91,63.87 256.04,63.88 256.16,63.99 256.29,64.21 256.41,64.51 256.54,64.85 256.66,65.22 256.78,65.57 256.91,65.87 257.03,66.08 257.16,66.2 257.28,66.2 257.41,66.09 257.53,65.88 257.66,65.58 257.78,65.24 257.9,64.88 258.03,64.53 258.15,64.24 258.28,64.03 258.4,63.92 258.53,63.92 258.65,64.04 258.78,64.26 258.9,64.55 259.03,64.9 259.15,65.27 259.27,65.62 259.4,65.91 259.52,66.13 259.65,66.24 259.77,66.25 259.9,66.13 260.02,65.92 260.15,65.63 260.27,65.29 260.4,64.92 260.52,64.58 260.64,64.29 260.77,64.08 260.89,63.97 261.02,63.97 261.14,64.08 261.27,64.3 261.39,64.6 261.52,64.95 261.64,65.31 261.76,65.66 261.89,65.96 262.01,66.17 262.14,66.29 262.26,66.29 262.39,66.18 262.51,65.97 262.64,65.67 262.76,65.33 262.88,64.97 263.01,64.62 263.13,64.33 263.26,64.12 263.38,64.01 263.51,64.01 263.63,64.13 263.76,64.34 263.88,64.64 264.01,64.99 264.13,65.35 264.25,65.7 264.38,66 264.5,66.21 264.63,66.33 264.75,66.33 264.88,66.22 265,66 265.13,65.71 265.25,65.37 265.38,65.01 265.5,64.66 265.62,64.37 265.75,64.16 265.87,64.05 266,64.05 266.12,64.16 266.25,64.38 266.37,64.68 266.5,65.03 266.62,65.39 266.74,65.74 266.87,66.03 266.99,66.25 267.12,66.36 267.24,66.36 267.37,66.25 267.49,66.04 267.62,65.75 267.74,65.4 267.87,65.04 267.99,64.7 268.11,64.4 268.24,64.19 268.36,64.08 268.49,64.08 268.61,64.2 268.74,64.42 268.86,64.71 268.99,65.06 269.11,65.43 269.23,65.77 269.36,66.07 269.48,66.28 269.61,66.4 269.73,66.4 269.86,66.29 269.98,66.07 270.11,65.78 270.23,65.44 270.36,65.07 270.48,64.73 270.6,64.44 270.73,64.23 270.85,64.12 270.98,64.12 271.1,64.23 271.23,64.45 271.35,64.74 271.48,65.09 271.6,65.46 271.72,65.8 271.85,66.1 271.97,66.32 272.1,66.43 272.22,66.43 272.35,66.32 272.47,66.11 272.6,65.81 272.72,65.47 272.84,65.11 272.97,64.76 273.09,64.47 273.22,64.26 273.34,64.15 273.47,64.15 273.59,64.26 273.72,64.48 273.84,64.77 273.97,65.12 274.09,65.49 274.21,65.83 274.34,66.13 274.46,66.34 274.59,66.46 274.71,66.46 274.84,66.35 274.96,66.13 275.09,65.84 275.21,65.5 275.34,65.13 275.46,64.79 275.58,64.5 275.71,64.28 275.83,64.17 275.96,64.18 276.08,64.29 276.21,64.51 276.33,64.8 276.46,65.15 276.58,65.51 276.7,65.86 276.83,66.16 276.95,66.37 277.08,66.49 277.2,66.49 277.33,66.37 277.45,66.16 277.58,65.87 277.7,65.52 277.83,65.16 277.95,64.82 278.07,64.52 278.2,64.31 278.32,64.2 278.45,64.2 278.57,64.32 278.7,64.53 278.82,64.83 278.95,65.17 279.07,65.54 279.19,65.89 279.32,66.18 279.44,66.4 279.57,66.51 279.69,66.51 279.82,66.4 279.94,66.19 280.07,65.89 280.19,65.55 280.31,65.18 280.44,64.84 280.56,64.55 280.69,64.33 280.81,64.22 280.94,64.23 281.06,64.34 281.19,64.55 281.31,64.85 281.44,65.2 281.56,65.56 281.68,65.91 281.81,66.21 281.93,66.42 282.06,66.53 282.18,66.53 282.31,66.42 282.43,66.21 282.56,65.92 282.68,65.57 282.81,65.21 282.93,64.86 283.05,64.57 283.18,64.36 283.3,64.25 283.43,64.25 283.55,64.36 283.68,64.58 283.8,64.87 283.93,65.22 284.05,65.58 284.17,65.93 284.3,66.23 284.42,66.44 284.55,66.55 284.67,66.56 284.8,66.44 284.92,66.23 285.05,65.94 285.17,65.59 285.3,65.23 285.42,64.88 285.54,64.59 285.67,64.38 285.79,64.27 285.92,64.27 286.04,64.38 286.17,64.6 286.29,64.89 286.42,65.24 286.54,65.6 286.66,65.95 286.79,66.25 286.91,66.46 287.04,66.57 287.16,66.57 287.29,66.46 287.41,66.25 287.54,65.96 287.66,65.61 287.78,65.25 287.91,64.9 288.03,64.61 288.16,64.4 288.28,64.28 288.41,64.29 288.53,64.4 288.66,64.62 288.78,64.91 288.91,65.26 289.03,65.62 289.15,65.97 289.28,66.27 289.4,66.48 289.53,66.59 289.65,66.59 289.78,66.48 289.9,66.27 290.03,65.97 290.15,65.63 290.28,65.26 290.4,64.92 290.52,64.63 290.65,64.41 290.77,64.3 290.9,64.3 291.02,64.42 291.15,64.63 291.27,64.93 291.4,65.28 291.52,65.64 291.64,65.99 291.77,66.28 291.89,66.5 292.02,66.61 292.14,66.61 292.27,66.5 292.39,66.28 292.52,65.99 292.64,65.64 292.77,65.28 292.89,64.94 293.01,64.64 293.14,64.43 293.26,64.32 293.39,64.32 293.51,64.43 293.64,64.65 293.76,64.94 293.89,65.29 294.01,65.66 294.13,66 294.26,66.3 294.38,66.51 294.51,66.62 294.63,66.63 294.76,66.51 294.88,66.3 295.01,66.01 295.13,65.66 295.25,65.3 295.38,64.95 295.5,64.66 295.63,64.44 295.75,64.33 295.88,64.33 296,64.45 296.13,64.66 296.25,64.96 296.38,65.31 296.5,65.67 296.62,66.02 296.75,66.31 296.87,66.53 297,66.64 297.12,66.64 297.25,66.53 297.37,66.31 297.5,66.02 297.62,65.67 297.75,65.31 297.87,64.97 297.99,64.67 298.12,64.46 298.24,64.35 298.37,64.35 298.49,64.46 298.62,64.68 298.74,64.97 298.87,65.32 298.99,65.68 299.11,66.03 299.24,66.33 299.36,66.54 299.49,66.65 299.61,66.65 299.74,66.54 299.86,66.33 299.99,66.03 300.11,65.69 300.24,65.32 300.36,64.98 300.48,64.68 300.61,64.47 300.73,64.36 300.86,64.36 300.98,64.47 301.11,64.69 301.23,64.99 301.36,65.33 301.48,65.7 301.6,66.04 301.73,66.34 301.85,66.55 301.98,66.66 302.1,66.66 302.23,66.55 302.35,66.34 302.48,66.04 302.6,65.7 302.73,65.34 302.85,64.99 302.97,64.7 303.1,64.48 303.22,64.37 303.35,64.37 303.47,64.49 303.6,64.7 303.72,65 303.85,65.34 303.97,65.71 304.09,66.05 304.22,66.35 304.34,66.56 304.47,66.68 304.59,66.68 304.72,66.56 304.84,66.35 304.97,66.06 305.09,65.71 305.22,65.35 305.34,65 305.46,64.71 305.59,64.49 305.71,64.38 305.84,64.38 305.96,64.5 306.09,64.71 306.21,65.01 306.34,65.35 306.46,65.72 306.58,66.07 306.71,66.36 306.83,66.57 306.96,66.69 307.08,66.69 307.21,66.57 307.33,66.36 307.46,66.07 307.58,65.72 307.71,65.36 307.83,65.01 307.95,64.72 308.08,64.5 308.2,64.39 308.33,64.39 308.45,64.51 308.58,64.72 308.7,65.02 308.83,65.36 308.95,65.73 309.07,66.08 309.2,66.37 309.32,66.58 309.45,66.7 309.57,66.7 309.7,66.58 309.82,66.37 309.95,66.08 310.07,65.73 310.19,65.37 310.32,65.02 310.44,64.73 310.57,64.51 310.69,64.4 310.82,64.4 310.94,64.52 311.07,64.73 311.19,65.03 311.32,65.37 311.44,65.74 311.56,66.08 311.69,66.38 311.81,66.59 311.94,66.71 312.06,66.71 312.19,66.59 312.31,66.38 312.44,66.08 312.56,65.74 312.69,65.38 312.81,65.03 312.93,64.74 313.06,64.52 313.18,64.41 313.31,64.41 313.43,64.53 313.56,64.74 313.68,65.04 313.81,65.38 313.93,65.75 314.05,66.09 314.18,66.39 314.3,66.6 314.43,66.71 314.55,66.71 314.68,66.6 314.8,66.39 314.93,66.09 315.05,65.75 315.18,65.38 315.3,65.04 315.42,64.74 315.55,64.53 315.67,64.42 315.8,64.42 315.92,64.53 316.05,64.75 316.17,65.04 316.3,65.39 316.42,65.75 316.54,66.1 316.67,66.4 316.79,66.61 316.92,66.72 317.04,66.72 317.17,66.61 317.29,66.39 317.42,66.1 317.54,65.75 317.66,65.39 317.79,65.05 317.91,64.75 318.04,64.54 318.16,64.43 318.29,64.43 318.41,64.54 318.54,64.76 318.66,65.05 318.79,65.4 318.91,65.76 319.03,66.11 319.16,66.4 319.28,66.62 319.41,66.73 319.53,66.73 319.66,66.62 319.78,66.4 319.91,66.11 320.03,65.76 320.16,65.4 320.28,65.05 320.4,64.76 320.53,64.55 320.65,64.43 320.78,64.43 320.9,64.55 321.03,64.76 321.15,65.06 321.28,65.4 321.4,65.77 321.52,66.11 321.65,66.41 321.77,66.62 321.9,66.74 322.02,66.73 322.15,66.62 322.27,66.41 322.4,66.11 322.52,65.77 322.65,65.4 322.77,65.06 322.89,64.76 323.02,64.55 323.14,64.44 323.27,64.44 323.39,64.55 323.52,64.77 323.64,65.06 323.77,65.41 323.89,65.77 324.01,66.12 324.14,66.42 324.26,66.63 324.39,66.74 324.51,66.74 324.64,66.63 324.76,66.41 324.89,66.12 325.01,65.77 325.13,65.41 325.26,65.06 325.38,64.77 325.51,64.56 325.63,64.45 325.76,64.45 325.88,64.56 326.01,64.77 326.13,65.07 326.26,65.42 326.38,65.78 326.5,66.13 326.63,66.42 326.75,66.63 326.88,66.75 327,66.75 327.13,66.63 327.25,66.42 327.38,66.13 327.5,65.78 327.62,65.42 327.75,65.07 327.87,64.78 328,64.56 328.12,64.45 328.25,64.45 328.37,64.56 328.5,64.78 328.62,65.07 328.75,65.42 328.87,65.79 328.99,66.13 329.12,66.43 329.24,66.64 329.37,66.75 329.49,66.75 329.62,66.64 329.74,66.43 329.87,66.13 329.99,65.78 330.12,65.42 330.24,65.08 330.36,64.78 330.49,64.57 330.61,64.46 330.74,64.46 330.86,64.57 330.99,64.78 331.11,65.08 331.24,65.43 331.36,65.79 331.48,66.14 331.61,66.43 331.73,66.64 331.86,66.76 331.98,66.76 332.11,66.64 332.23,66.43 332.36,66.14 332.48,65.79 332.61,65.43 332.73,65.08 332.85,64.79 332.98,64.57 333.1,64.46 333.23,64.46 333.35,64.57 333.48,64.79 333.6,65.08 333.73,65.43 333.85,65.79 333.97,66.14 334.1,66.44 334.22,66.65 334.35,66.76 334.47,66.76 334.6,66.65 334.72,66.43 334.85,66.14 334.97,65.79 335.1,65.43 335.22,65.08 335.34,64.79 335.47,64.58 335.59,64.46 335.72,64.47 335.84,64.58 335.97,64.79 336.09,65.09 336.22,65.43 336.34,65.8 336.46,66.15 336.59,66.44 336.71,66.65 336.84,66.77 336.96,66.77 337.09,66.65 337.21,66.44 337.34,66.14 337.46,65.8 337.59,65.43 337.71,65.09 337.83,64.79 337.96,64.58 338.08,64.47 338.21,64.47 338.33,64.58 338.46,64.8 338.58,65.09 338.71,65.44 338.83,65.8 338.95,66.15 339.08,66.44 339.2,66.66 339.33,66.77 339.45,66.77 339.58,66.66 339.7,66.44 339.83,66.15 339.95,65.8 340.07,65.44 340.2,65.09 340.32,64.8 340.45,64.58 340.57,64.47 340.7,64.47 340.82,64.59 340.95,64.8 341.07,65.1 341.2,65.44 341.32,65.81 341.44,66.15 341.57,66.45 341.69,66.66 341.82,66.77 341.94,66.77 342.07,66.66 342.19,66.45 342.32,66.15 342.44,65.8 342.56,65.44 342.69,65.1 342.81,64.8 342.94,64.59 343.06,64.48 343.19,64.48 343.31,64.59 343.44,64.8 343.56,65.1 343.69,65.45 343.81,65.81 343.93,66.16 344.06,66.45 344.18,66.66 344.31,66.78 344.43,66.78 344.56,66.66 344.68,66.45 344.81,66.15 344.93,65.81 345.06,65.44 345.18,65.1 345.3,64.8 345.43,64.59 345.55,64.48 345.68,64.48 345.8,64.59 345.93,64.81 346.05,65.1 346.18,65.45" fill="none" stroke="#42a0ff" stroke-width="0.9" stroke-linejoin="round"/>
<polyline points="24.6,171.78 24.72,162.77 24.85,156.29 24.97,149.7 25.1,146.68 25.22,142.08 25.35,140.49 25.47,141.36 25.6,140.59 25.72,138.99 25.85,139.13 25.97,137.82 26.1,137.04 26.22,139.09 26.34,135.33 26.47,139.11 26.59,133.17 26.72,134.18 26.84,132.58 26.97,130.25 27.09,128.68 27.22,132.34 27.34,133.42 27.47,132.14 27.59,133.78 27.71,131.07 27.84,125.7 27.96,131.64 28.09,129.04 28.21,133.84 28.34,130.35 28.46,130.85 28.59,129.31 28.71,127.35 28.84,124.75 28.96,127.95 29.09,127.73 29.21,128.99 29.33,124.45 29.46,125.06 29.58,122.49 29.71,124.65 29.83,121.6 29.96,129.52 30.08,125.88 30.21,123.11 30.33,125.66 30.46,127.23 30.58,127.18 30.71,130.26 30.83,127.26 30.95,121.85 31.08,123.63 31.2,127.68 31.33,127.14 31.45,126.29 31.58,123.14 31.7,125.99 31.83,124.47 31.95,120.24 32.08,120.01 32.2,122.99 32.33,125.21 32.45,126.46 32.57,124.61 32.7,127.46 32.82,121.45 32.95,125.01 33.07,123.83 33.2,121.85 33.32,123.4 33.45,127.57 33.57,122.6 33.7,121.51 33.82,125.4 33.95,125.98 34.07,124.04 34.19,126.25 34.32,118.75 34.44,125.72 34.57,122.83 34.69,121.61 34.82,122.25 34.94,121.86 35.07,121.56 35.19,122.31 35.32,119.67 35.44,127.14 35.56,123.89 35.69,126.24 35.81,124.66 35.94,123.91 36.06,125.43 36.19,124.4 36.31,121.48 36.44,122.57 36.56,124.49 36.69,118.1 36.81,116.36 36.94,123.14 37.06,119.31 37.18,115.3 37.31,119.58 37.43,121.16 37.56,121.98 37.68,122.43 37.81,121.9 37.93,123.37 38.06,121.86 38.18,125.1 38.31,125.36 38.43,126.37 38.56,123.22 38.68,124.49 38.8,123.05 38.93,120.74 39.05,121.95 39.18,120.85 39.3,119.98 39.43,119.65 39.55,119.84 39.68,120.73 39.8,119.3 39.93,123.51 40.05,118.49 40.17,120.94 40.3,122.7 40.42,122.95 40.55,124.48 40.67,123.68 40.8,125.65 40.92,121.3 41.05,124.46 41.17,127.05 41.3,123.93 41.42,126.74 41.55,122.54 41.67,119.48 41.79,119.15 41.92,122.29 42.04,120.92 42.17,116.24 42.29,119.99 42.42,121.08 42.54,118.87 42.67,115.79 42.79,118.32 42.92,121.47 43.04,122.19 43.17,122.56 43.29,125.26 43.41,125.63 43.54,122.58 43.66,124.17 43.79,122.4 43.91,122.27 44.04,117.51 44.16,123.24 44.29,120.58 44.41,119.74 44.54,118.32 44.66,117.6 44.79,121.51 44.91,122.63 45.03,124.25 45.16,122.58 45.28,119.74 45.41,121.54 45.53,124.87 45.66,124.46 45.78,123.82 45.91,122.31 46.03,123.78 46.16,122.63 46.28,125.88 46.4,124.71 46.53,118.87 46.65,125.87 46.78,120.91 46.9,118.85 47.03,119.87 47.15,121.29 47.28,120.52 47.4,120.85 47.53,120.96 47.65,124.42 47.78,121.04 47.9,123.28 48.02,123.81 48.15,123.14 48.27,122.47 48.4,121.41 48.52,123.49 48.65,120.13 48.77,119.66 48.9,119.94 49.02,119.25 49.15,121.6 49.27,120.49 49.4,117.52 49.52,121.81 49.64,119.12 49.77,121.4 49.89,121.51 50.02,124.27 50.14,122.32 50.27,120.7 50.39,119.63 50.52,120.58 50.64,123.69 50.77,124.09 50.89,124.87 51.02,121.57 51.14,122.45 51.26,120.74 51.39,118.6 51.51,122.09 51.64,124.29 51.76,121.82 51.89,122.12 52.01,121.39 52.14,116.8 52.26,119.77 52.39,123.8 52.51,119.3 52.64,117.85 52.76,121.32 52.88,122.76 53.01,123.23 53.13,122.87 53.26,122.33 53.38,120.68 53.51,119.85 53.63,119.45 53.76,119.13 53.88,120.77 54.01,125.09 54.13,121.42 54.25,119.35 54.38,119.85 54.5,117.01 54.63,120.15 54.75,122.07 54.88,117.67 55,119.21 55.13,119.92 55.25,118.63 55.38,119.14 55.5,121.78 55.63,128.43 55.75,124.96 55.87,123.98 56,124.28 56.12,121.41 56.25,119.42 56.37,123.06 56.5,124.22 56.62,116.95 56.75,120.86 56.87,121.54 57,118.33 57.12,118.48 57.25,121.56 57.37,118.95 57.49,121.52 57.62,122.2 57.74,120.1 57.87,119.68 57.99,123.72 58.12,122.66 58.24,123.71 58.37,117.2 58.49,123.67 58.62,118.93 58.74,121.91 58.87,122.27 58.99,120.37 59.11,119.21 59.24,117.29 59.36,118.28 59.49,120 59.61,120.4 59.74,119.02 59.86,119.32 59.99,117.6 60.11,119.4 60.24,118.25 60.36,118.11 60.48,122.03 60.61,126.33 60.73,125.89 60.86,125.88 60.98,118.91 61.11,123.45 61.23,119.23 61.36,120.76 61.48,118.28 61.61,118.94 61.73,120.04 61.86,119.32 61.98,118.55 62.1,118.89 62.23,121.11 62.35,120.53 62.48,117.12 62.6,123.7 62.73,119.84 62.85,123.02 62.98,121.94 63.1,121.52 63.23,123.54 63.35,121.31 63.48,125.37 63.6,119.4 63.72,122.94 63.85,120.64 63.97,121.38 64.1,126.25 64.22,121.33 64.35,118.41 64.47,115.49 64.6,118.62 64.72,119.45 64.85,123.31 64.97,117.45 65.09,116.47 65.22,120.27 65.34,121.57 65.47,125.6 65.59,121.39 65.72,117.85 65.84,121.38 65.97,119.49 66.09,120.52 66.22,123.68 66.34,119.14 66.47,124.24 66.59,121.34 66.71,119.17 66.84,117.02 66.96,117.78 67.09,118.38 67.21,121.49 67.34,123.02 67.46,120.21 67.59,121.58 67.71,122.97 67.84,123.67 67.96,123.25 68.09,126.95 68.21,126.1 68.33,126.16 68.46,121.67 68.58,120.75 68.71,117.52 68.83,124.9 68.96,123.06 69.08,119 69.21,120.15 69.33,119.46 69.46,115.1 69.58,119.82 69.71,122.26 69.83,123.04 69.95,119.61 70.08,119.46 70.2,123.06 70.33,123.06 70.45,121.11 70.58,121.94 70.7,124.63 70.83,121.5 70.95,120.83 71.08,125.2 71.2,122.23 71.32,120.95 71.45,122.81 71.57,125.22 71.7,120.25 71.82,117.21 71.95,115.33 72.07,123.58 72.2,114.51 72.32,122.62 72.45,118.31 72.57,117.53 72.7,118.2 72.82,120.7 72.94,124.55 73.07,121.81 73.19,124.74 73.32,127.9 73.44,116.18 73.57,120.07 73.69,117.84 73.82,123.63 73.94,118.6 74.07,117.55 74.19,116.46 74.32,118.76 74.44,120.99 74.56,119.43 74.69,124.34 74.81,123.76 74.94,120.04 75.06,122.05 75.19,120.52 75.31,121.2 75.44,118.19 75.56,120.4 75.69,123.34 75.81,120.23 75.94,123.53 76.06,122.18 76.18,119.67 76.31,124.28 76.43,122.14 76.56,123.48 76.68,119.37 76.81,115.35 76.93,120.04 77.06,118.57 77.18,121.64 77.31,122.6 77.43,122.73 77.55,117.02 77.68,115.32 77.8,119.96 77.93,123.58 78.05,121.59 78.18,123.9 78.3,121.04 78.43,121.31 78.55,120.89 78.68,120.26 78.8,122.89 78.93,122.37 79.05,124.27 79.17,120.49 79.3,121.57 79.42,118.77 79.55,120.97 79.67,119.57 79.8,119.29 79.92,123.08 80.05,121.63 80.17,122.06 80.3,119.4 80.42,118.59 80.55,121.26 80.67,123.9 80.79,119.65 80.92,124.98 81.04,118.36 81.17,122.82 81.29,127.37 81.42,116.09 81.54,117.49 81.67,121.67 81.79,118.29 81.92,118.89 82.04,118.77 82.17,122.79 82.29,121.59 82.41,119.19 82.54,119.49 82.66,117.65 82.79,120.74 82.91,117.25 83.04,124.44 83.16,122.63 83.29,126.55 83.41,124.43 83.54,118.69 83.66,123.38 83.78,120.57 83.91,121.62 84.03,122.84 84.16,120.25 84.28,119.67 84.41,119.42 84.53,117.41 84.66,118.39 84.78,121.36 84.91,121.99 85.03,119.34 85.16,120.29 85.28,118.77 85.4,116.6 85.53,121.23 85.65,123.21 85.78,122.96 85.9,123.59 86.03,123.24 86.15,123.48 86.28,122.45 86.4,122.35 86.53,119.15 86.65,120.33 86.78,118.99 86.9,120.9 87.02,115.57 87.15,118.67 87.27,116.49 87.4,118.48 87.52,116.85 87.65,120.57 87.77,119.39 87.9,116.48 88.02,125.44 88.15,120.71 88.27,119.11 88.4,120.95 88.52,119.8 88.64,118.79 88.77,122.99 88.89,120.6 89.02,122.47 89.14,120.91 89.27,119.86 89.39,118.68 89.52,118.61 89.64,118.74 89.77,123.1 89.89,115.94 90.01,117.46 90.14,118.52 90.26,121.59 90.39,122.18 90.51,121.77 90.64,122.24 90.76,126.09 90.89,120.24 91.01,115.23 91.14,125.27 91.26,119.51 91.39,120.66 91.51,120.87 91.63,116.59 91.76,121.04 91.88,118.02 92.01,115.82 92.13,120.08 92.26,120.99 92.38,119.83 92.51,120.8 92.63,116.77 92.76,122.73 92.88,120.14 93.01,125.53 93.13,121.68 93.25,122.77 93.38,127.22 93.5,121.34 93.63,123.62 93.75,122.51 93.88,118.18 94,122.97 94.13,121.69 94.25,115.5 94.38,118.1 94.5,115.64 94.63,118.97 94.75,121.95 94.87,120.19 95,117.26 95.12,118.03 95.25,120.8 95.37,121.86 95.5,123.12 95.62,124.28 95.75,118.47 95.87,121.75 96,123.69 96.12,122.36 96.24,120.03 96.37,120.05 96.49,120.89 96.62,120.85 96.74,118.47 96.87,121.85 96.99,121.6 97.12,117.95 97.24,121.09 97.37,119.25 97.49,117.26 97.62,118.62 97.74,120.74 97.86,117.47 97.99,121.46 98.11,123.8 98.24,120.98 98.36,120.89 98.49,123.1 98.61,121.19 98.74,121.89 98.86,125.52 98.99,120.95 99.11,120.02 99.24,119.43 99.36,121.78 99.48,119.6 99.61,119.7 99.73,119.85 99.86,122.41 99.98,118.48 100.11,122.53 100.23,121.24 100.36,119.19 100.48,124.31 100.61,124.11 100.73,120.24 100.86,122.54 100.98,121.91 101.1,120.86 101.23,119.33 101.35,126.01 101.48,122.32 101.6,121.53 101.73,120.77 101.85,120.1 101.98,120.6 102.1,118.97 102.23,121.92 102.35,119.75 102.47,118.96 102.6,121.49 102.72,120.48 102.85,118.49 102.97,122.16 103.1,124.36 103.22,122.63 103.35,123.64 103.47,120.7 103.6,119.51 103.72,123.24 103.85,121.79 103.97,118.23 104.09,120.44 104.22,118.08 104.34,120.43 104.47,120.54 104.59,120.66 104.72,115.58 104.84,120.83 104.97,120.87 105.09,121.1 105.22,121.08 105.34,120.57 105.47,122.44 105.59,118.8 105.71,122.04 105.84,118.75 105.96,120.69 106.09,120.06 106.21,124.46 106.34,121.61 106.46,120.69 106.59,119.88 106.71,122.87 106.84,116.48 106.96,119.6 107.09,120.48 107.21,120.55 107.33,120.45 107.46,118.94 107.58,122.54 107.71,122.64 107.83,121.3 107.96,122.52 108.08,123.77 108.21,123.64 108.33,123.41 108.46,121.37 108.58,118.87 108.7,123.66 108.83,118.22 108.95,118.81 109.08,120.3 109.2,116.85 109.33,121.27 109.45,122.35 109.58,122.21 109.7,120.86 109.83,120.64 109.95,120.82 110.08,119.73 110.2,125.1 110.32,120.87 110.45,125.71 110.57,124.34 110.7,123.3 110.82,124.05 110.95,124.04 111.07,123.34 111.2,121.51 111.32,120.12 111.45,119.37 111.57,121.4 111.7,120.07 111.82,120.14 111.94,117.87 112.07,123.73 112.19,117.47 112.32,120.96 112.44,121.36 112.57,119.22 112.69,118.6 112.82,121.18 112.94,120.64 113.07,122.71 113.19,119.93 113.32,119.13 113.44,121.43 113.56,118.32 113.69,121.14 113.81,121.14 113.94,122.41 114.06,119.95 114.19,116.84 114.31,120.94 114.44,117.45 114.56,118.84 114.69,119.43 114.81,124.47 114.94,119.96 115.06,118.58 115.18,122.27 115.31,121.68 115.43,127.66 115.56,121.6 115.68,123.79 115.81,119.89 115.93,124.99 116.06,119.85 116.18,121.95 116.31,119.65 116.43,122.41 116.55,120.61 116.68,113.84 116.8,119.94 116.93,120.22 117.05,120.11 117.18,122.09 117.3,117.51 117.43,116.21 117.55,121.34 117.68,124.23 117.8,119.46 117.93,120.51 118.05,121.28 118.17,120.06 118.3,123.44 118.42,121.56 118.55,124.09 118.67,124.37 118.8,119.29 118.92,121.88 119.05,114.67 119.17,118.27 119.3,119.54 119.42,117.13 119.55,115.85 119.67,118.99 119.79,122.43 119.92,118.97 120.04,117.08 120.17,121.7 120.29,123.44 120.42,120.69 120.54,122.67 120.67,124.68 120.79,122.43 120.92,122.75 121.04,120.64 121.16,121.23 121.29,118.94 121.41,119.04 121.54,122.53 121.66,117.58 121.79,116.39 121.91,117.82 122.04,117.42 122.16,121.1 122.29,121.88 122.41,117.82 122.54,122.07 122.66,125.1 122.78,119.75 122.91,124.25 123.03,123.58 123.16,125.28 123.28,124.36 123.41,123.56 123.53,121.98 123.66,120.69 123.78,125.99 123.91,118.95 124.03,121.74 124.16,120.59 124.28,116.83 124.4,118.9 124.53,122.67 124.65,116.19 124.78,121.69 124.9,119.21 125.03,119.47 125.15,117.79 125.28,122.77 125.4,120.69 125.53,124.46 125.65,120.11 125.78,123.2 125.9,121.93 126.02,117.35 126.15,120.79 126.27,121.05 126.4,115.89 126.52,118.58 126.65,120.07 126.77,116.71 126.9,121.16 127.02,117.2 127.15,117.49 127.27,121.09 127.39,121 127.52,119.51 127.64,120.64 127.77,123.83 127.89,121.59 128.02,127.12 128.14,123.29 128.27,122.46 128.39,121.74 128.52,120.6 128.64,123.95 128.77,120.07 128.89,120.84 129.01,120.64 129.14,121.19 129.26,120.63 129.39,118 129.51,121.48 129.64,119.83 129.76,117.74 129.89,117.59 130.01,116.67 130.14,121.27 130.26,124.05 130.39,120.66 130.51,122.3 130.63,120.1 130.76,121.61 130.88,118.73 131.01,119.49 131.13,119.96 131.26,120.24 131.38,119.66 131.51,118.83 131.63,117.93 131.76,116.17 131.88,119.78 132.01,115.95 132.13,120.17 132.25,117.89 132.38,119.89 132.5,120.37 132.63,116.5 132.75,122.46 132.88,125.36 133,124.39 133.13,123.04 133.25,117.21 133.38,120.75 133.5,119.3 133.62,123.48 133.75,120.54 133.87,119.09 134,115.61 134.12,119.81 134.25,116.96 134.37,118.11 134.5,121.59 134.62,119.99 134.75,120.44 134.87,124.46 135,118.63 135.12,119.55 135.24,122.72 135.37,125.48 135.49,119.89 135.62,121.84 135.74,119.54 135.87,118.28 135.99,122.28 136.12,119.76 136.24,121.75 136.37,120.59 136.49,119.47 136.62,118.38 136.74,115.91 136.86,118.47 136.99,119.81 137.11,120.51 137.24,119.2 137.36,121.52 137.49,120.88 137.61,120.76 137.74,122.97 137.86,122.97 137.99,124.17 138.11,118.28 138.24,118.89 138.36,120.24 138.48,121.32 138.61,116.93 138.73,120.59 138.86,120.63 138.98,118.67 139.11,117.75 139.23,115.3 139.36,118.76 139.48,115.19 139.61,121.75 139.73,118.47 139.85,121.74 139.98,116.13 140.1,121.32 140.23,121.93 140.35,120.83 140.48,120.34 140.6,124.66 140.73,122.32 140.85,124.02 140.98,120.92 141.1,121.62 141.23,121.96 141.35,121.85 141.47,120.08 141.6,119.9 141.72,117.1 141.85,115.61 141.97,123.44 142.1,120.17 142.22,120.75 142.35,118.68 142.47,121.8 142.6,120.94 142.72,123.93 142.85,121.3 142.97,122.71 143.09,122.71 143.22,120.85 143.34,121.66 143.47,124.38 143.59,120.19 143.72,120.65 143.84,120.76 143.97,117.27 144.09,115.87 144.22,120.42 144.34,120.31 144.47,116.31 144.59,117.03 144.71,121.4 144.84,122.1 144.96,121.15 145.09,121.66 145.21,125.04 145.34,122.66 145.46,125.53 145.59,124.85 145.71,119.73 145.84,122.55 145.96,121.34 146.08,120.12 146.21,119.58 146.33,121.14 146.46,119.19 146.58,120.05 146.71,114.6 146.83,117.38 146.96,121.74 147.08,119.92 147.21,118.42 147.33,118.7 147.46,116.09 147.58,117.83 147.7,122.9 147.83,122.9 147.95,125.53 148.08,121.86 148.2,121.29 148.33,115.62 148.45,120.99 148.58,125.69 148.7,122.61 148.83,120.21 148.95,121.85 149.08,120.14" fill="none" stroke="#0a84ff" stroke-width="0.6" stroke-linejoin="round"/>
<polyline points="222.2,172.92 222.32,161.39 222.45,153.08 222.57,147.09 222.7,142.79 222.82,139.73 222.95,137.57 223.07,136.08 223.19,135.07 223.32,134.39 223.44,133.93 223.57,133.6 223.69,133.31 223.82,133.03 223.94,132.69 224.06,132.29 224.19,131.81 224.31,131.25 224.44,130.64 224.56,130 224.69,129.36 224.81,128.76 224.93,128.22 225.06,127.78 225.18,127.45 225.31,127.24 225.43,127.15 225.56,127.17 225.68,127.28 225.8,127.44 225.93,127.62 226.05,127.78 226.18,127.89 226.3,127.92 226.43,127.86 226.55,127.68 226.67,127.4 226.8,127.03 226.92,126.58 227.05,126.09 227.17,125.59 227.3,125.11 227.42,124.7 227.54,124.38 227.67,124.16 227.79,124.06 227.92,124.08 228.04,124.2 228.17,124.4 228.29,124.65 228.42,124.92 228.54,125.17 228.66,125.36 228.79,125.48 228.91,125.49 229.04,125.39 229.16,125.18 229.29,124.88 229.41,124.5 229.53,124.07 229.66,123.64 229.78,123.23 229.91,122.87 230.03,122.61 230.16,122.44 230.28,122.4 230.4,122.47 230.53,122.64 230.65,122.89 230.78,123.19 230.9,123.5 231.03,123.8 231.15,124.03 231.27,124.19 231.4,124.24 231.52,124.18 231.65,124.01 231.77,123.74 231.9,123.39 232.02,123 232.14,122.6 232.27,122.22 232.39,121.9 232.52,121.66 232.64,121.53 232.77,121.51 232.89,121.61 233.01,121.8 233.14,122.08 233.26,122.4 233.39,122.74 233.51,123.05 233.64,123.31 233.76,123.49 233.88,123.56 234.01,123.52 234.13,123.37 234.26,123.12 234.38,122.79 234.51,122.41 234.63,122.03 234.75,121.66 234.88,121.36 235,121.13 235.13,121.02 235.25,121.01 235.38,121.12 235.5,121.33 235.62,121.62 235.75,121.95 235.87,122.3 236,122.63 236.12,122.9 236.25,123.09 236.37,123.17 236.49,123.14 236.62,123 236.74,122.76 236.87,122.44 236.99,122.07 237.12,121.69 237.24,121.34 237.36,121.04 237.49,120.82 237.61,120.71 237.74,120.72 237.86,120.83 237.99,121.05 238.11,121.34 238.23,121.69 238.36,122.04 238.48,122.37 238.61,122.65 238.73,122.84 238.86,122.93 238.98,122.91 239.1,122.77 239.23,122.53 239.35,122.22 239.48,121.86 239.6,121.48 239.73,121.13 239.85,120.84 239.97,120.63 240.1,120.52 240.22,120.53 240.35,120.65 240.47,120.87 240.6,121.17 240.72,121.51 240.84,121.87 240.97,122.21 241.09,122.49 241.22,122.68 241.34,122.77 241.47,122.75 241.59,122.62 241.72,122.38 241.84,122.07 241.96,121.71 242.09,121.34 242.21,120.99 242.34,120.7 242.46,120.49 242.59,120.39 242.71,120.4 242.83,120.52 242.96,120.74 243.08,121.04 243.21,121.39 243.33,121.75 243.46,122.09 243.58,122.37 243.7,122.56 243.83,122.66 243.95,122.64 244.08,122.5 244.2,122.27 244.33,121.96 244.45,121.6 244.57,121.23 244.7,120.89 244.82,120.59 244.95,120.39 245.07,120.29 245.2,120.3 245.32,120.42 245.44,120.64 245.57,120.94 245.69,121.29 245.82,121.65 245.94,121.99 246.07,122.27 246.19,122.47 246.31,122.57 246.44,122.55 246.56,122.41 246.69,122.18 246.81,121.87 246.94,121.52 247.06,121.15 247.18,120.8 247.31,120.51 247.43,120.3 247.56,120.2 247.68,120.21 247.81,120.34 247.93,120.56 248.05,120.86 248.18,121.21 248.3,121.57 248.43,121.91 248.55,122.2 248.68,122.4 248.8,122.49 248.92,122.47 249.05,122.34 249.17,122.11 249.3,121.8 249.42,121.44 249.55,121.07 249.67,120.73 249.79,120.44 249.92,120.23 250.04,120.13 250.17,120.14 250.29,120.27 250.42,120.49 250.54,120.79 250.66,121.14 250.79,121.51 250.91,121.85 251.04,122.13 251.16,122.33 251.29,122.42 251.41,122.41 251.53,122.27 251.66,122.04 251.78,121.74 251.91,121.38 252.03,121.01 252.16,120.66 252.28,120.37 252.4,120.17 252.53,120.07 252.65,120.08 252.78,120.21 252.9,120.43 253.03,120.73 253.15,121.08 253.28,121.45 253.4,121.79 253.52,122.07 253.65,122.27 253.77,122.36 253.9,122.35 254.02,122.22 254.15,121.98 254.27,121.68 254.39,121.32 254.52,120.95 254.64,120.61 254.77,120.32 254.89,120.11 255.02,120.01 255.14,120.03 255.26,120.15 255.39,120.38 255.51,120.68 255.64,121.03 255.76,121.39 255.89,121.73 256.01,122.02 256.13,122.22 256.26,122.31 256.38,122.29 256.51,122.16 256.63,121.93 256.76,121.62 256.88,121.27 257,120.9 257.13,120.55 257.25,120.27 257.38,120.06 257.5,119.96 257.63,119.97 257.75,120.1 257.87,120.32 258,120.63 258.12,120.98 258.25,121.34 258.37,121.68 258.5,121.97 258.62,122.17 258.74,122.26 258.87,122.24 258.99,122.11 259.12,121.88 259.24,121.58 259.37,121.22 259.49,120.85 259.61,120.51 259.74,120.22 259.86,120.01 259.99,119.91 260.11,119.93 260.24,120.05 260.36,120.28 260.48,120.58 260.61,120.93 260.73,121.29 260.86,121.64 260.98,121.92 261.11,122.12 261.23,122.22 261.35,122.2 261.48,122.07 261.6,121.84 261.73,121.53 261.85,121.18 261.98,120.81 262.1,120.46 262.22,120.17 262.35,119.97 262.47,119.87 262.6,119.88 262.72,120.01 262.85,120.23 262.97,120.54 263.09,120.89 263.22,121.25 263.34,121.59 263.47,121.88 263.59,122.08 263.72,122.17 263.84,122.16 263.96,122.03 264.09,121.8 264.21,121.49 264.34,121.13 264.46,120.77 264.59,120.42 264.71,120.13 264.83,119.93 264.96,119.83 265.08,119.84 265.21,119.97 265.33,120.2 265.46,120.5 265.58,120.85 265.7,121.21 265.83,121.55 265.95,121.84 266.08,122.04 266.2,122.14 266.33,122.12 266.45,121.99 266.58,121.76 266.7,121.45 266.82,121.1 266.95,120.73 267.07,120.38 267.2,120.1 267.32,119.89 267.45,119.79 267.57,119.81 267.69,119.93 267.82,120.16 267.94,120.46 268.07,120.81 268.19,121.18 268.32,121.52 268.44,121.8 268.56,122 268.69,122.1 268.81,122.08 268.94,121.95 269.06,121.72 269.19,121.42 269.31,121.06 269.43,120.69 269.56,120.35 269.68,120.06 269.81,119.86 269.93,119.76 270.06,119.77 270.18,119.9 270.3,120.12 270.43,120.43 270.55,120.78 270.68,121.14 270.8,121.48 270.93,121.77 271.05,121.97 271.17,122.07 271.3,122.05 271.42,121.92 271.55,121.69 271.67,121.38 271.8,121.03 271.92,120.66 272.04,120.32 272.17,120.03 272.29,119.83 272.42,119.73 272.54,119.74 272.67,119.87 272.79,120.09 272.91,120.4 273.04,120.75 273.16,121.11 273.29,121.45 273.41,121.74 273.54,121.94 273.66,122.04 273.78,122.02 273.91,121.89 274.03,121.66 274.16,121.35 274.28,121 274.41,120.63 274.53,120.29 274.65,120 274.78,119.8 274.9,119.7 275.03,119.71 275.15,119.84 275.28,120.06 275.4,120.37 275.52,120.72 275.65,121.08 275.77,121.43 275.9,121.71 276.02,121.91 276.15,122.01 276.27,121.99 276.39,121.86 276.52,121.63 276.64,121.33 276.77,120.97 276.89,120.61 277.02,120.26 277.14,119.97 277.26,119.77 277.39,119.67 277.51,119.68 277.64,119.81 277.76,120.04 277.89,120.34 278.01,120.69 278.14,121.06 278.26,121.4 278.38,121.68 278.51,121.89 278.63,121.98 278.76,121.97 278.88,121.84 279.01,121.61 279.13,121.3 279.25,120.95 279.38,120.58 279.5,120.24 279.63,119.95 279.75,119.74 279.88,119.65 280,119.66 280.12,119.79 280.25,120.01 280.37,120.32 280.5,120.67 280.62,121.03 280.75,121.37 280.87,121.66 280.99,121.86 281.12,121.96 281.24,121.94 281.37,121.81 281.49,121.58 281.62,121.28 281.74,120.92 281.86,120.56 281.99,120.21 282.11,119.92 282.24,119.72 282.36,119.62 282.49,119.64 282.61,119.76 282.73,119.99 282.86,120.29 282.98,120.65 283.11,121.01 283.23,121.35 283.36,121.64 283.48,121.84 283.6,121.94 283.73,121.92 283.85,121.79 283.98,121.56 284.1,121.26 284.23,120.9 284.35,120.53 284.47,120.19 284.6,119.9 284.72,119.7 284.85,119.6 284.97,119.62 285.1,119.74 285.22,119.97 285.34,120.27 285.47,120.62 285.59,120.99 285.72,121.33 285.84,121.62 285.97,121.82 286.09,121.92 286.21,121.9 286.34,121.77 286.46,121.54 286.59,121.23 286.71,120.88 286.84,120.51 286.96,120.17 287.08,119.88 287.21,119.68 287.33,119.58 287.46,119.6 287.58,119.72 287.71,119.95 287.83,120.25 287.95,120.61 288.08,120.97 288.2,121.31 288.33,121.6 288.45,121.8 288.58,121.9 288.7,121.88 288.82,121.75 288.95,121.52 289.07,121.22 289.2,120.86 289.32,120.5 289.45,120.15 289.57,119.86 289.69,119.66 289.82,119.56 289.94,119.58 290.07,119.7 290.19,119.93 290.32,120.24 290.44,120.59 290.56,120.95 290.69,121.29 290.81,121.58 290.94,121.78 291.06,121.88 291.19,121.86 291.31,121.73 291.44,121.5 291.56,121.2 291.68,120.85 291.81,120.48 291.93,120.13 292.06,119.85 292.18,119.64 292.31,119.55 292.43,119.56 292.55,119.69 292.68,119.91 292.8,120.22 292.93,120.57 293.05,120.94 293.18,121.28 293.3,121.56 293.42,121.76 293.55,121.86 293.67,121.85 293.8,121.72 293.92,121.49 294.05,121.18 294.17,120.83 294.29,120.46 294.42,120.12 294.54,119.83 294.67,119.63 294.79,119.53 294.92,119.54 295.04,119.67 295.16,119.9 295.29,120.2 295.41,120.56 295.54,120.92 295.66,121.26 295.79,121.55 295.91,121.75 296.03,121.85 296.16,121.83 296.28,121.7 296.41,121.47 296.53,121.17 296.66,120.81 296.78,120.45 296.9,120.1 297.03,119.82 297.15,119.61 297.28,119.52 297.4,119.53 297.53,119.66 297.65,119.88 297.77,120.19 297.9,120.54 298.02,120.91 298.15,121.25 298.27,121.53 298.4,121.74 298.52,121.83 298.64,121.82 298.77,121.69 298.89,121.46 299.02,121.15 299.14,120.8 299.27,120.43 299.39,120.09 299.51,119.8 299.64,119.6 299.76,119.5 299.89,119.52 300.01,119.64 300.14,119.87 300.26,120.18 300.38,120.53 300.51,120.89 300.63,121.24 300.76,121.52 300.88,121.72 301.01,121.82 301.13,121.8 301.25,121.68 301.38,121.45 301.5,121.14 301.63,120.79 301.75,120.42 301.88,120.08 302,119.79 302.12,119.59 302.25,119.49 302.37,119.5 302.5,119.63 302.62,119.86 302.75,120.16 302.87,120.52 303,120.88 303.12,121.22 303.24,121.51 303.37,121.71 303.49,121.81 303.62,121.79 303.74,121.66 303.87,121.44 303.99,121.13 304.11,120.78 304.24,120.41 304.36,120.07 304.49,119.78 304.61,119.58 304.74,119.48 304.86,119.49 304.98,119.62 305.11,119.85 305.23,120.15 305.36,120.5 305.48,120.87 305.61,121.21 305.73,121.5 305.85,121.7 305.98,121.8 306.1,121.78 306.23,121.65 306.35,121.42 306.48,121.12 306.6,120.77 306.72,120.4 306.85,120.06 306.97,119.77 307.1,119.57 307.22,119.47 307.35,119.48 307.47,119.61 307.59,119.84 307.72,120.14 307.84,120.49 307.97,120.86 308.09,121.2 308.22,121.49 308.34,121.69 308.46,121.79 308.59,121.77 308.71,121.64 308.84,121.41 308.96,121.11 309.09,120.76 309.21,120.39 309.33,120.05 309.46,119.76 309.58,119.56 309.71,119.46 309.83,119.47 309.96,119.6 310.08,119.83 310.2,120.13 310.33,120.48 310.45,120.85 310.58,121.19 310.7,121.48 310.83,121.68 310.95,121.78 311.07,121.76 311.2,121.63 311.32,121.41 311.45,121.1 311.57,120.75 311.7,120.38 311.82,120.04 311.94,119.75 312.07,119.55 312.19,119.45 312.32,119.46 312.44,119.59 312.57,119.82 312.69,120.12 312.81,120.48 312.94,120.84 313.06,121.18 313.19,121.47 313.31,121.67 313.44,121.77 313.56,121.75 313.68,121.62 313.81,121.4 313.93,121.09 314.06,120.74 314.18,120.37 314.31,120.03 314.43,119.74 314.55,119.54 314.68,119.44 314.8,119.46 314.93,119.58 315.05,119.81 315.18,120.12 315.3,120.47 315.43,120.83 315.55,121.18 315.67,121.46 315.8,121.66 315.92,121.76 316.05,121.75 316.17,121.62 316.3,121.39 316.42,121.08 316.54,120.73 316.67,120.36 316.79,120.02 316.92,119.73 317.04,119.53 317.17,119.43 317.29,119.45 317.41,119.58 317.54,119.8 317.66,120.11 317.79,120.46 317.91,120.83 318.04,121.17 318.16,121.45 318.28,121.66 318.41,121.75 318.53,121.74 318.66,121.61 318.78,121.38 318.91,121.08 319.03,120.72 319.15,120.36 319.28,120.01 319.4,119.73 319.53,119.52 319.65,119.43 319.78,119.44 319.9,119.57 320.02,119.8 320.15,120.1 320.27,120.45 320.4,120.82 320.52,121.16 320.65,121.45 320.77,121.65 320.89,121.75 321.02,121.73 321.14,121.6 321.27,121.37 321.39,121.07 321.52,120.72 321.64,120.35 321.76,120.01 321.89,119.72 322.01,119.52 322.14,119.42 322.26,119.43 322.39,119.56 322.51,119.79 322.63,120.09 322.76,120.45 322.88,120.81 323.01,121.15 323.13,121.44 323.26,121.64 323.38,121.74 323.5,121.72 323.63,121.6 323.75,121.37 323.88,121.06 324,120.71 324.13,120.34 324.25,120 324.37,119.71 324.5,119.51 324.62,119.41 324.75,119.43 324.87,119.56 325,119.78 325.12,120.09 325.24,120.44 325.37,120.81 325.49,121.15 325.62,121.43 325.74,121.64 325.87,121.73 325.99,121.72 326.11,121.59 326.24,121.36 326.36,121.06 326.49,120.7 326.61,120.34 326.74,119.99 326.86,119.71 326.98,119.51 327.11,119.41 327.23,119.42 327.36,119.55 327.48,119.78 327.61,120.08 327.73,120.43 327.86,120.8 327.98,121.14 328.1,121.43 328.23,121.63 328.35,121.73 328.48,121.71 328.6,121.59 328.73,121.36 328.85,121.05 328.97,120.7 329.1,120.33 329.22,119.99 329.35,119.7 329.47,119.5 329.6,119.4 329.72,119.42 329.84,119.55 329.97,119.77 330.09,120.08 330.22,120.43 330.34,120.8 330.47,121.14 330.59,121.42 330.71,121.63 330.84,121.72 330.96,121.71 331.09,121.58 331.21,121.35 331.34,121.05 331.46,120.69 331.58,120.33 331.71,119.98 331.83,119.7 331.96,119.5 332.08,119.4 332.21,119.41 332.33,119.54 332.45,119.77 332.58,120.07 332.7,120.42 332.83,120.79 332.95,121.13 333.08,121.42 333.2,121.62 333.32,121.72 333.45,121.7 333.57,121.58 333.7,121.35 333.82,121.04 333.95,120.69 334.07,120.32 334.19,119.98 334.32,119.69 334.44,119.49 334.57,119.39 334.69,119.41 334.82,119.54 334.94,119.76 335.06,120.07 335.19,120.42 335.31,120.79 335.44,121.13 335.56,121.42 335.69,121.62 335.81,121.72 335.93,121.7 336.06,121.57 336.18,121.34 336.31,121.04 336.43,120.69 336.56,120.32 336.68,119.98 336.8,119.69 336.93,119.49 337.05,119.39 337.18,119.4 337.3,119.53 337.43,119.76 337.55,120.06 337.67,120.42 337.8,120.78 337.92,121.12 338.05,121.41 338.17,121.61 338.3,121.71 338.42,121.7 338.54,121.57 338.67,121.34 338.79,121.03 338.92,120.68 339.04,120.32 339.17,119.97 339.29,119.69 339.41,119.48 339.54,119.38 339.66,119.4 339.79,119.53 339.91,119.76 340.04,120.06 340.16,120.41 340.28,120.78 340.41,121.12 340.53,121.41 340.66,121.61 340.78,121.71 340.91,121.69 341.03,121.56 341.16,121.34 341.28,121.03 341.4,120.68 341.53,120.31 341.65,119.97 341.78,119.68 341.9,119.48 342.03,119.38 342.15,119.4 342.27,119.52 342.4,119.75 342.52,120.06 342.65,120.41 342.77,120.77 342.9,121.12 343.02,121.4 343.14,121.61 343.27,121.7 343.39,121.69 343.52,121.56 343.64,121.33 343.77,121.03 343.89,120.67 344.01,120.31 344.14,119.97 344.26,119.68 344.39,119.48 344.51,119.38 344.64,119.39 344.76,119.52 344.88,119.75 345.01,120.05 345.13,120.41 345.26,120.77 345.38,121.11 345.51,121.4 345.63,121.6 345.75,121.7 345.88,121.69 346,121.56 346.13,121.33 346.25,121.02 346.38,120.67" fill="none" stroke="#42a0ff" stroke-width="0.9" stroke-linejoin="round"/>
<polyline points="49.6,221.71 49.79,238.36 49.98,250.31 50.17,258.92 50.36,265.17 50.54,269.75 50.73,273.15 50.92,275.71 51.11,277.67 51.3,279.21 51.49,280.44 51.68,281.44 51.87,282.29 52.06,283.02 52.24,283.66 52.43,284.24 52.62,284.77 52.81,285.26 53,285.71 53.19,286.14 53.38,286.55 53.57,286.94 53.76,287.31 53.94,287.67 54.13,288.01 54.32,288.34 54.51,288.66 54.7,288.97 54.89,289.27 55.08,289.56 55.27,289.84 55.46,290.11 55.64,290.37 55.83,290.62 56.02,290.86 56.21,291.1 56.4,291.33 56.59,291.55 56.78,291.76 56.97,291.97 57.16,292.17 57.34,292.36 57.53,292.55 57.72,292.73 57.91,292.91 58.1,293.08 58.29,293.24 58.48,293.4 58.67,293.55 58.86,293.7 59.05,293.85 59.23,293.99 59.42,294.12 59.61,294.26 59.8,294.38 59.99,294.51 60.18,294.63 60.37,294.74 60.56,294.85 60.75,294.96 60.93,295.07 61.12,295.17 61.31,295.27 61.5,295.36 61.69,295.46 61.88,295.55 62.07,295.64 62.26,295.72 62.45,295.8 62.63,295.88 62.82,295.96 63.01,296.03 63.2,296.11 63.39,296.18 63.58,296.24 63.77,296.31 63.96,296.37 64.15,296.44 64.33,296.5 64.52,296.56 64.71,296.61 64.9,296.67 65.09,296.72 65.28,296.77 65.47,296.82 65.66,296.87 65.85,296.92 66.03,296.97 66.22,297.01 66.41,297.06 66.6,297.1 66.79,297.14 66.98,297.18 67.17,297.22 67.36,297.26 67.55,297.3 67.73,297.33 67.92,297.37 68.11,297.4 68.3,297.43 68.49,297.47 68.68,297.5 68.87,297.53 69.06,297.56 69.25,297.59 69.43,297.61 69.62,297.64 69.81,297.67 70,297.69 70.19,297.72 70.38,297.74 70.57,297.77 70.76,297.79 70.95,297.82 71.13,297.84 71.32,297.86 71.51,297.88 71.7,297.9 71.89,297.92 72.08,297.94 72.27,297.96 72.46,297.98 72.65,298 72.83,298.02 73.02,298.04 73.21,298.05 73.4,298.07 73.59,298.09 73.78,298.1 73.97,298.12 74.16,298.13 74.35,298.15 74.53,298.16 74.72,298.18 74.91,298.19 75.1,298.21 75.29,298.22 75.48,298.23 75.67,298.25 75.86,298.26 76.05,298.27 76.23,298.29 76.42,298.3 76.61,298.31 76.8,298.32 76.99,298.33 77.18,298.34 77.37,298.36 77.56,298.37 77.75,298.38 77.94,298.39 78.12,298.4 78.31,298.41 78.5,298.42 78.69,298.43 78.88,298.44 79.07,298.45 79.26,298.46 79.45,298.47 79.64,298.48 79.82,298.49 80.01,298.5 80.2,298.5 80.39,298.51 80.58,298.52 80.77,298.53 80.96,298.54 81.15,298.55 81.34,298.55 81.52,298.56 81.71,298.57 81.9,298.58 82.09,298.59 82.28,298.59 82.47,298.6 82.66,298.61 82.85,298.62 83.04,298.62 83.22,298.63 83.41,298.64 83.6,298.65 83.79,298.65 83.98,298.66 84.17,298.67 84.36,298.67 84.55,298.68 84.74,298.69 84.92,298.69 85.11,298.7 85.3,298.71 85.49,298.71 85.68,298.72 85.87,298.72 86.06,298.73 86.25,298.74 86.44,298.74 86.62,298.75 86.81,298.76 87,298.76 87.19,298.77 87.38,298.77 87.57,298.78 87.76,298.78 87.95,298.79 88.14,298.8 88.32,298.8 88.51,298.81 88.7,298.81 88.89,298.82 89.08,298.82 89.27,298.83 89.46,298.83 89.65,298.84 89.84,298.85 90.02,298.85 90.21,298.86 90.4,298.86 90.59,298.87 90.78,298.87 90.97,298.88 91.16,298.88 91.35,298.89 91.54,298.89 91.72,298.9 91.91,298.9 92.1,298.91 92.29,298.91 92.48,298.92 92.67,298.92 92.86,298.93 93.05,298.93 93.24,298.94 93.42,298.94 93.61,298.95 93.8,298.95 93.99,298.95 94.18,298.96 94.37,298.96 94.56,298.97 94.75,298.97 94.94,298.98 95.12,298.98 95.31,298.99 95.5,298.99 95.69,299 95.88,299 96.07,299 96.26,299.01 96.45,299.01 96.64,299.02 96.83,299.02 97.01,299.03 97.2,299.03 97.39,299.03 97.58,299.04 97.77,299.04 97.96,299.05 98.15,299.05 98.34,299.05 98.53,299.06 98.71,299.06 98.9,299.07 99.09,299.07 99.28,299.08 99.47,299.08 99.66,299.08 99.85,299.09 100.04,299.09 100.23,299.1 100.41,299.1 100.6,299.1 100.79,299.11 100.98,299.11 101.17,299.11 101.36,299.12 101.55,299.12 101.74,299.13 101.93,299.13 102.11,299.13 102.3,299.14 102.49,299.14 102.68,299.14 102.87,299.15 103.06,299.15 103.25,299.16 103.44,299.16 103.63,299.16 103.81,299.17 104,299.17 104.19,299.17 104.38,299.18 104.57,299.18 104.76,299.18 104.95,299.19 105.14,299.19 105.33,299.2 105.51,299.2 105.7,299.2 105.89,299.21 106.08,299.21 106.27,299.21 106.46,299.22 106.65,299.22 106.84,299.22 107.03,299.23 107.21,299.23 107.4,299.23 107.59,299.24 107.78,299.24 107.97,299.24 108.16,299.25 108.35,299.25 108.54,299.25 108.73,299.26 108.91,299.26 109.1,299.26 109.29,299.27 109.48,299.27 109.67,299.27 109.86,299.28 110.05,299.28 110.24,299.28 110.43,299.29 110.61,299.29 110.8,299.29 110.99,299.29 111.18,299.3 111.37,299.3 111.56,299.3 111.75,299.31 111.94,299.31 112.13,299.31 112.31,299.32 112.5,299.32 112.69,299.32 112.88,299.32 113.07,299.33 113.26,299.33 113.45,299.33 113.64,299.34 113.83,299.34 114.01,299.34 114.2,299.35 114.39,299.35 114.58,299.35 114.77,299.35 114.96,299.36 115.15,299.36 115.34,299.36 115.53,299.37 115.72,299.37 115.9,299.37 116.09,299.37 116.28,299.38 116.47,299.38 116.66,299.38 116.85,299.38 117.04,299.39 117.23,299.39 117.42,299.39 117.6,299.4 117.79,299.4 117.98,299.4 118.17,299.4 118.36,299.41 118.55,299.41 118.74,299.41 118.93,299.41 119.12,299.42 119.3,299.42 119.49,299.42 119.68,299.42 119.87,299.43 120.06,299.43 120.25,299.43 120.44,299.43 120.63,299.44 120.82,299.44 121,299.44 121.19,299.44 121.38,299.45 121.57,299.45 121.76,299.45 121.95,299.45 122.14,299.46 122.33,299.46 122.52,299.46 122.7,299.46 122.89,299.47 123.08,299.47 123.27,299.47 123.46,299.47 123.65,299.48 123.84,299.48 124.03,299.48 124.22,299.48 124.4,299.49 124.59,299.49 124.78,299.49 124.97,299.49 125.16,299.5 125.35,299.5 125.54,299.5 125.73,299.5 125.92,299.5 126.1,299.51 126.29,299.51 126.48,299.51 126.67,299.51 126.86,299.52 127.05,299.52 127.24,299.52 127.43,299.52 127.62,299.52 127.8,299.53 127.99,299.53 128.18,299.53 128.37,299.53 128.56,299.54 128.75,299.54 128.94,299.54 129.13,299.54 129.32,299.54 129.5,299.55 129.69,299.55 129.88,299.55 130.07,299.55 130.26,299.55 130.45,299.56 130.64,299.56 130.83,299.56 131.02,299.56 131.2,299.56 131.39,299.57 131.58,299.57 131.77,299.57 131.96,299.57 132.15,299.57 132.34,299.58 132.53,299.58 132.72,299.58 132.9,299.58 133.09,299.58 133.28,299.59 133.47,299.59 133.66,299.59 133.85,299.59 134.04,299.59 134.23,299.6 134.42,299.6 134.61,299.6 134.79,299.6 134.98,299.6 135.17,299.61 135.36,299.61 135.55,299.61 135.74,299.61 135.93,299.61 136.12,299.61 136.31,299.62 136.49,299.62 136.68,299.62 136.87,299.62 137.06,299.62 137.25,299.63 137.44,299.63 137.63,299.63 137.82,299.63 138.01,299.63 138.19,299.63 138.38,299.64 138.57,299.64 138.76,299.64 138.95,299.64 139.14,299.64 139.33,299.64 139.52,299.65 139.71,299.65 139.89,299.65 140.08,299.65 140.27,299.65 140.46,299.66 140.65,299.66 140.84,299.66 141.03,299.66 141.22,299.66 141.41,299.66 141.59,299.67 141.78,299.67 141.97,299.67 142.16,299.67 142.35,299.67 142.54,299.67 142.73,299.67 142.92,299.68 143.11,299.68 143.29,299.68 143.48,299.68 143.67,299.68 143.86,299.68 144.05,299.69 144.24,299.69 144.43,299.69 144.62,299.69 144.81,299.69 144.99,299.69 145.18,299.7 145.37,299.7 145.56,299.7 145.75,299.7 145.94,299.7 146.13,299.7 146.32,299.7 146.51,299.71 146.69,299.71 146.88,299.71 147.07,299.71 147.26,299.71 147.45,299.71 147.64,299.71 147.83,299.72 148.02,299.72 148.21,299.72 148.39,299.72 148.58,299.72 148.77,299.72 148.96,299.72 149.15,299.73 149.34,299.73 149.53,299.73 149.72,299.73 149.91,299.73 150.09,299.73 150.28,299.73 150.47,299.74 150.66,299.74 150.85,299.74 151.04,299.74 151.23,299.74 151.42,299.74 151.61,299.74 151.79,299.74 151.98,299.75 152.17,299.75 152.36,299.75 152.55,299.75 152.74,299.75 152.93,299.75 153.12,299.75 153.31,299.76 153.5,299.76 153.68,299.76 153.87,299.76 154.06,299.76 154.25,299.76 154.44,299.76 154.63,299.76 154.82,299.77 155.01,299.77 155.2,299.77 155.38,299.77 155.57,299.77 155.76,299.77 155.95,299.77 156.14,299.77 156.33,299.78 156.52,299.78 156.71,299.78 156.9,299.78 157.08,299.78 157.27,299.78 157.46,299.78 157.65,299.78 157.84,299.78 158.03,299.79 158.22,299.79 158.41,299.79 158.6,299.79 158.78,299.79 158.97,299.79 159.16,299.79 159.35,299.79 159.54,299.79 159.73,299.8 159.92,299.8 160.11,299.8 160.3,299.8 160.48,299.8 160.67,299.8 160.86,299.8 161.05,299.8 161.24,299.8 161.43,299.81 161.62,299.81 161.81,299.81 162,299.81 162.18,299.81 162.37,299.81 162.56,299.81 162.75,299.81 162.94,299.81 163.13,299.82 163.32,299.82 163.51,299.82 163.7,299.82 163.88,299.82 164.07,299.82 164.26,299.82 164.45,299.82 164.64,299.82 164.83,299.82 165.02,299.83 165.21,299.83 165.4,299.83 165.58,299.83 165.77,299.83 165.96,299.83 166.15,299.83 166.34,299.83 166.53,299.83 166.72,299.83 166.91,299.84 167.1,299.84 167.28,299.84 167.47,299.84 167.66,299.84 167.85,299.84 168.04,299.84 168.23,299.84 168.42,299.84 168.61,299.84 168.8,299.85 168.98,299.85 169.17,299.85 169.36,299.85 169.55,299.85 169.74,299.85 169.93,299.85 170.12,299.85 170.31,299.85 170.5,299.85 170.68,299.85 170.87,299.86 171.06,299.86 171.25,299.86 171.44,299.86 171.63,299.86 171.82,299.86 172.01,299.86 172.2,299.86 172.39,299.86 172.57,299.86 172.76,299.86 172.95,299.86 173.14,299.87 173.33,299.87 173.52,299.87 173.71,299.87 173.9,299.87 174.09,299.87 174.27,299.87 174.46,299.87 174.65,299.87 174.84,299.87 175.03,299.87 175.22,299.87 175.41,299.88 175.6,299.88 175.79,299.88 175.97,299.88 176.16,299.88 176.35,299.88 176.54,299.88 176.73,299.88 176.92,299.88 177.11,299.88 177.3,299.88 177.49,299.88 177.67,299.89 177.86,299.89 178.05,299.89 178.24,299.89 178.43,299.89 178.62,299.89 178.81,299.89 179,299.89 179.19,299.89 179.37,299.89 179.56,299.89 179.75,299.89 179.94,299.89 180.13,299.9 180.32,299.9 180.51,299.9 180.7,299.9 180.89,299.9 181.07,299.9 181.26,299.9 181.45,299.9 181.64,299.9 181.83,299.9 182.02,299.9 182.21,299.9 182.4,299.9 182.59,299.9 182.77,299.91 182.96,299.91 183.15,299.91 183.34,299.91 183.53,299.91 183.72,299.91 183.91,299.91 184.1,299.91 184.29,299.91 184.47,299.91 184.66,299.91 184.85,299.91 185.04,299.91 185.23,299.91 185.42,299.91 185.61,299.92 185.8,299.92 185.99,299.92 186.17,299.92 186.36,299.92 186.55,299.92 186.74,299.92 186.93,299.92 187.12,299.92 187.31,299.92 187.5,299.92 187.69,299.92 187.87,299.92 188.06,299.92 188.25,299.92 188.44,299.92 188.63,299.93 188.82,299.93 189.01,299.93 189.2,299.93 189.39,299.93 189.57,299.93 189.76,299.93 189.95,299.93 190.14,299.93 190.33,299.93 190.52,299.93 190.71,299.93 190.9,299.93 191.09,299.93 191.28,299.93 191.46,299.93 191.65,299.94 191.84,299.94 192.03,299.94 192.22,299.94 192.41,299.94 192.6,299.94 192.79,299.94 192.98,299.94 193.16,299.94 193.35,299.94 193.54,299.94 193.73,299.94 193.92,299.94 194.11,299.94 194.3,299.94 194.49,299.94 194.68,299.94 194.86,299.94 195.05,299.95 195.24,299.95 195.43,299.95 195.62,299.95 195.81,299.95 196,299.95 196.19,299.95 196.38,299.95 196.56,299.95 196.75,299.95 196.94,299.95 197.13,299.95 197.32,299.95 197.51,299.95 197.7,299.95 197.89,299.95 198.08,299.95 198.26,299.95 198.45,299.95 198.64,299.96 198.83,299.96 199.02,299.96 199.21,299.96 199.4,299.96 199.59,299.96 199.78,299.96 199.96,299.96 200.15,299.96 200.34,299.96 200.53,299.96 200.72,299.96 200.91,299.96 201.1,299.96 201.29,299.96 201.48,299.96 201.66,299.96 201.85,299.96 202.04,299.96 202.23,299.96 202.42,299.96 202.61,299.97 202.8,299.97 202.99,299.97 203.18,299.97 203.36,299.97 203.55,299.97 203.74,299.97 203.93,299.97 204.12,299.97 204.31,299.97 204.5,299.97 204.69,299.97 204.88,299.97 205.06,299.97 205.25,299.97 205.44,299.97 205.63,299.97 205.82,299.97 206.01,299.97 206.2,299.97 206.39,299.97 206.58,299.97 206.76,299.97 206.95,299.98 207.14,299.98 207.33,299.98 207.52,299.98 207.71,299.98 207.9,299.98 208.09,299.98 208.28,299.98 208.46,299.98 208.65,299.98 208.84,299.98 209.03,299.98 209.22,299.98 209.41,299.98 209.6,299.98 209.79,299.98 209.98,299.98 210.16,299.98 210.35,299.98 210.54,299.98 210.73,299.98 210.92,299.98 211.11,299.98 211.3,299.98 211.49,299.99 211.68,299.99 211.87,299.99 212.05,299.99 212.24,299.99 212.43,299.99 212.62,299.99 212.81,299.99 213,299.99 213.19,299.99 213.38,299.99 213.57,299.99 213.75,299.99 213.94,299.99 214.13,299.99 214.32,299.99 214.51,299.99 214.7,299.99 214.89,299.99 215.08,299.99 215.27,299.99 215.45,299.99 215.64,299.99 215.83,299.99 216.02,299.99 216.21,299.99 216.4,299.99 216.59,299.99 216.78,300 216.97,300 217.15,300 217.34,300 217.53,300 217.72,300 217.91,300 218.1,300 218.29,300 218.48,300 218.67,300 218.85,300 219.04,300 219.23,300 219.42,300 219.61,300 219.8,300 219.99,300 220.18,300 220.37,300 220.55,300 220.74,300 220.93,300 221.12,300 221.31,300 221.5,300 221.69,300 221.88,300 222.07,300 222.25,300 222.44,300.01 222.63,300.01 222.82,300.01 223.01,300.01 223.2,300.01 223.39,300.01 223.58,300.01 223.77,300.01 223.95,300.01 224.14,300.01 224.33,300.01 224.52,300.01 224.71,300.01 224.9,300.01 225.09,300.01 225.28,300.01 225.47,300.01 225.65,300.01 225.84,300.01 226.03,300.01 226.22,300.01 226.41,300.01 226.6,300.01 226.79,300.01 226.98,300.01 227.17,300.01 227.35,300.01 227.54,300.01 227.73,300.01 227.92,300.01 228.11,300.01 228.3,300.01 228.49,300.01 228.68,300.01 228.87,300.01 229.06,300.02 229.24,300.02 229.43,300.02 229.62,300.02 229.81,300.02 230,300.02 230.19,300.02 230.38,300.02 230.57,300.02 230.76,300.02 230.94,300.02 231.13,300.02 231.32,300.02 231.51,300.02 231.7,300.02 231.89,300.02 232.08,300.02 232.27,300.02 232.46,300.02 232.64,300.02 232.83,300.02 233.02,300.02 233.21,300.02 233.4,300.02 233.59,300.02 233.78,300.02 233.97,300.02 234.16,300.02 234.34,300.02 234.53,300.02 234.72,300.02 234.91,300.02 235.1,300.02 235.29,300.02 235.48,300.02 235.67,300.02 235.86,300.02 236.04,300.02 236.23,300.02 236.42,300.02 236.61,300.02 236.8,300.03 236.99,300.03 237.18,300.03 237.37,300.03 237.56,300.03 237.74,300.03 237.93,300.03 238.12,300.03 238.31,300.03" fill="none" stroke="#0a84ff" stroke-width="1.4" stroke-linejoin="round"/>
<polyline points="49.6,221.71 49.79,238.36 49.98,250.31 50.17,258.92 50.36,265.17 50.54,269.75 50.73,273.15 50.92,275.71 51.11,277.67 51.3,279.21 51.49,280.44 51.68,281.44 51.87,282.29 52.06,283.02 52.24,283.66 52.43,284.24 52.62,284.77 52.81,285.26 53,285.71 53.19,286.14 53.38,286.55 53.57,286.94 53.76,287.31 53.94,287.67 54.13,288.01 54.32,288.34 54.51,288.66 54.7,288.97 54.89,289.27 55.08,289.56 55.27,289.84 55.46,290.11 55.64,290.37 55.83,290.62 56.02,290.86 56.21,291.1 56.4,291.33 56.59,291.55 56.78,291.76 56.97,291.97 57.16,292.17 57.34,292.36 57.53,292.55 57.72,292.73 57.91,292.91 58.1,293.08 58.29,293.24 58.48,293.4 58.67,293.55 58.86,293.7 59.05,293.85 59.23,293.99 59.42,294.12 59.61,294.26 59.8,294.38 59.99,294.51 60.18,294.63 60.37,294.74 60.56,294.85 60.75,294.96 60.93,295.07 61.12,295.17 61.31,295.27 61.5,295.36 61.69,295.46 61.88,295.55 62.07,295.64 62.26,295.72 62.45,295.8 62.63,295.88 62.82,295.96 63.01,296.03 63.2,296.11 63.39,296.18 63.58,296.24 63.77,296.31 63.96,296.37 64.15,296.44 64.33,296.5 64.52,296.56 64.71,296.61 64.9,296.67 65.09,296.72 65.28,296.77 65.47,296.82 65.66,296.87 65.85,296.92 66.03,296.97 66.22,297.01 66.41,297.06 66.6,297.1 66.79,297.14 66.98,297.18 67.17,297.22 67.36,297.26 67.55,297.3 67.73,297.33 67.92,297.37 68.11,297.4 68.3,297.43 68.49,297.47 68.68,297.5 68.87,297.53 69.06,297.56 69.25,297.59 69.43,297.61 69.62,297.64 69.81,297.67 70,297.69 70.19,297.72 70.38,297.74 70.57,297.77 70.76,297.79 70.95,297.82 71.13,297.84 71.32,297.86 71.51,297.88 71.7,297.9 71.89,297.92 72.08,297.94 72.27,297.96 72.46,297.98 72.65,298 72.83,298.02 73.02,298.04 73.21,298.05 73.4,298.07 73.59,298.09 73.78,298.1 73.97,298.12 74.16,298.13 74.35,298.15 74.53,298.16 74.72,298.18 74.91,298.19 75.1,298.21 75.29,298.22 75.48,298.23 75.67,298.25 75.86,298.26 76.05,298.27 76.23,298.29 76.42,298.3 76.61,298.31 76.8,298.32 76.99,298.33 77.18,298.34 77.37,298.36 77.56,298.37 77.75,298.38 77.94,298.39 78.12,298.4 78.31,298.41 78.5,298.42 78.69,298.43 78.88,298.44 79.07,298.45 79.26,298.46 79.45,298.47 79.64,298.48 79.82,298.49 80.01,298.5 80.2,298.5 80.39,298.51 80.58,298.52 80.77,298.53 80.96,298.54 81.15,298.55 81.34,298.55 81.52,298.56 81.71,298.57 81.9,298.58 82.09,298.59 82.28,298.59 82.47,298.6 82.66,298.61 82.85,298.62 83.04,298.62 83.22,298.63 83.41,298.64 83.6,298.65 83.79,298.65 83.98,298.66 84.17,298.67 84.36,298.67 84.55,298.68 84.74,298.69 84.92,298.69 85.11,298.7 85.3,298.71 85.49,298.71 85.68,298.72 85.87,298.72 86.06,298.73 86.25,298.74 86.44,298.74 86.62,298.75 86.81,298.76 87,298.76 87.19,298.77 87.38,298.77 87.57,298.78 87.76,298.78 87.95,298.79 88.14,298.8 88.32,298.8 88.51,298.81 88.7,298.81 88.89,298.82 89.08,298.82 89.27,298.83 89.46,298.83 89.65,298.84 89.84,298.85 90.02,298.85 90.21,298.86 90.4,298.86 90.59,298.87 90.78,298.87 90.97,298.88 91.16,298.88 91.35,298.89 91.54,298.89 91.72,298.9 91.91,298.9 92.1,298.91 92.29,298.91 92.48,298.92 92.67,298.92 92.86,298.93 93.05,298.93 93.24,298.94 93.42,298.94 93.61,298.95 93.8,298.95 93.99,298.95 94.18,298.96 94.37,298.96 94.56,298.97 94.75,298.97 94.94,298.98 95.12,298.98 95.31,298.99 95.5,298.99 95.69,299 95.88,299 96.07,299 96.26,299.01 96.45,299.01 96.64,299.02 96.83,299.02 97.01,299.03 97.2,299.03 97.39,299.03 97.58,299.04 97.77,299.04 97.96,299.05 98.15,299.05 98.34,299.05 98.53,299.06 98.71,299.06 98.9,299.07 99.09,299.07 99.28,299.08 99.47,299.08 99.66,299.08 99.85,299.09 100.04,299.09 100.23,299.1 100.41,299.1 100.6,299.1 100.79,299.11 100.98,299.11 101.17,299.11 101.36,299.12 101.55,299.12 101.74,299.13 101.93,299.13 102.11,299.13 102.3,299.14 102.49,299.14 102.68,299.14 102.87,299.15 103.06,299.15 103.25,299.16 103.44,299.16 103.63,299.16 103.81,299.17 104,299.17 104.19,299.17 104.38,299.18 104.57,299.18 104.76,299.18 104.95,299.19 105.14,299.19 105.33,299.2 105.51,299.2 105.7,299.2 105.89,299.21 106.08,299.21 106.27,299.21 106.46,299.22 106.65,299.22 106.84,299.22 107.03,299.23 107.21,299.23 107.4,299.23 107.59,299.24 107.78,299.24 107.97,299.24 108.16,299.25 108.35,299.25 108.54,299.25 108.73,299.26 108.91,299.26 109.1,299.26 109.29,299.27 109.48,299.27 109.67,299.27 109.86,299.28 110.05,299.28 110.24,299.28 110.43,299.29 110.61,299.29 110.8,299.29 110.99,299.29 111.18,299.3 111.37,299.3 111.56,299.3 111.75,299.31 111.94,299.31 112.13,299.31 112.31,299.32 112.5,299.32 112.69,299.32 112.88,299.32 113.07,299.33 113.26,299.33 113.45,299.33 113.64,299.34 113.83,299.34 114.01,299.34 114.2,299.35 114.39,299.35 114.58,299.35 114.77,299.35 114.96,299.36 115.15,299.36 115.34,299.36 115.53,299.37 115.72,299.37 115.9,299.37 116.09,299.37 116.28,299.38 116.47,299.38 116.66,299.38 116.85,299.38 117.04,299.39 117.23,299.39 117.42,299.39 117.6,299.4 117.79,299.4 117.98,299.4 118.17,299.4 118.36,299.41 118.55,299.41 118.74,299.41 118.93,299.41 119.12,299.42 119.3,299.42 119.49,299.42 119.68,299.42 119.87,299.43 120.06,299.43 120.25,299.43 120.44,299.43 120.63,299.44 120.82,299.44 121,299.44 121.19,299.44 121.38,299.45 121.57,299.45 121.76,299.45 121.95,299.45 122.14,299.46 122.33,299.46 122.52,299.46 122.7,299.46 122.89,299.47 123.08,299.47 123.27,299.47 123.46,299.47 123.65,299.48 123.84,299.48 124.03,299.48 124.22,299.48 124.4,299.49 124.59,299.49 124.78,299.49 124.97,299.49 125.16,299.5 125.35,299.5 125.54,299.5 125.73,299.5 125.92,299.5 126.1,299.51 126.29,299.51 126.48,299.51 126.67,299.51 126.86,299.52 127.05,299.52 127.24,299.52 127.43,299.52 127.62,299.52 127.8,299.53 127.99,299.53 128.18,299.53 128.37,299.53 128.56,299.54 128.75,299.54 128.94,299.54 129.13,299.54 129.32,299.54 129.5,299.55 129.69,299.55 129.88,299.55 130.07,299.55 130.26,299.55 130.45,299.56 130.64,299.56 130.83,299.56 131.02,299.56 131.2,299.56 131.39,299.57 131.58,299.57 131.77,299.57 131.96,299.57 132.15,299.57 132.34,299.58 132.53,299.58 132.72,299.58 132.9,299.58 133.09,299.58 133.28,299.59 133.47,299.59 133.66,299.59 133.85,299.59 134.04,299.59 134.23,299.6 134.42,299.6 134.61,299.6 134.79,299.6 134.98,299.6 135.17,299.61 135.36,299.61 135.55,299.61 135.74,299.61 135.93,299.61 136.12,299.61 136.31,299.62 136.49,299.62 136.68,299.62 136.87,299.62 137.06,299.62 137.25,299.63 137.44,299.63 137.63,299.63 137.82,299.63 138.01,299.63 138.19,299.63 138.38,299.64 138.57,299.64 138.76,299.64 138.95,299.64 139.14,299.64 139.33,299.64 139.52,299.65 139.71,299.65 139.89,299.65 140.08,299.65 140.27,299.65 140.46,299.66 140.65,299.66 140.84,299.66 141.03,299.66 141.22,299.66 141.41,299.66 141.59,299.67 141.78,299.67 141.97,299.67 142.16,299.67 142.35,299.67 142.54,299.67 142.73,299.67 142.92,299.68 143.11,299.68 143.29,299.68 143.48,299.68 143.67,299.68 143.86,299.68 144.05,299.69 144.24,299.69 144.43,299.69 144.62,299.69 144.81,299.69 144.99,299.69 145.18,299.7 145.37,299.7 145.56,299.7 145.75,299.7 145.94,299.7 146.13,299.7 146.32,299.7 146.51,299.71 146.69,299.71 146.88,299.71 147.07,299.71 147.26,299.71 147.45,299.71 147.64,299.71 147.83,299.72 148.02,299.72 148.21,299.72 148.39,299.72 148.58,299.72 148.77,299.72 148.96,299.72 149.15,299.73 149.34,299.73 149.53,299.73 149.72,299.73 149.91,299.73 150.09,299.73 150.28,299.73 150.47,299.74 150.66,299.74 150.85,299.74 151.04,299.74 151.23,299.74 151.42,299.74 151.61,299.74 151.79,299.74 151.98,299.75 152.17,299.75 152.36,299.75 152.55,299.75 152.74,299.75 152.93,299.75 153.12,299.75 153.31,299.76 153.5,299.76 153.68,299.76 153.87,299.76 154.06,299.76 154.25,299.76 154.44,299.76 154.63,299.76 154.82,299.77 155.01,299.77 155.2,299.77 155.38,299.77 155.57,299.77 155.76,299.77 155.95,299.77 156.14,299.77 156.33,299.78 156.52,299.78 156.71,299.78 156.9,299.78 157.08,299.78 157.27,299.78 157.46,299.78 157.65,299.78 157.84,299.78 158.03,299.79 158.22,299.79 158.41,299.79 158.6,299.79 158.78,299.79 158.97,299.79 159.16,299.79 159.35,299.79 159.54,299.79 159.73,299.8 159.92,299.8 160.11,299.8 160.3,299.8 160.48,299.8 160.67,299.8 160.86,299.8 161.05,299.8 161.24,299.8 161.43,299.81 161.62,299.81 161.81,299.81 162,299.81 162.18,299.81 162.37,299.81 162.56,299.81 162.75,299.81 162.94,299.81 163.13,299.82 163.32,299.82 163.51,299.82 163.7,299.82 163.88,299.82 164.07,299.82 164.26,299.82 164.45,299.82 164.64,299.82 164.83,299.82 165.02,299.83 165.21,299.83 165.4,299.83 165.58,299.83 165.77,299.83 165.96,299.83 166.15,299.83 166.34,299.83 166.53,299.83 166.72,299.83 166.91,299.84 167.1,299.84 167.28,299.84 167.47,299.84 167.66,299.84 167.85,299.84 168.04,299.84 168.23,299.84 168.42,299.84 168.61,299.84 168.8,299.85 168.98,299.85 169.17,299.85 169.36,299.85 169.55,299.85 169.74,299.85 169.93,299.85 170.12,299.85 170.31,299.85 170.5,299.85 170.68,299.85 170.87,299.86 171.06,299.86 171.25,299.86 171.44,299.86 171.63,299.86 171.82,299.86 172.01,299.86 172.2,299.86 172.39,299.86 172.57,299.86 172.76,299.86 172.95,299.86 173.14,299.87 173.33,299.87 173.52,299.87 173.71,299.87 173.9,299.87 174.09,299.87 174.27,299.87 174.46,299.87 174.65,299.87 174.84,299.87 175.03,299.87 175.22,299.87 175.41,299.88 175.6,299.88 175.79,299.88 175.97,299.88 176.16,299.88 176.35,299.88 176.54,299.88 176.73,299.88 176.92,299.88 177.11,299.88 177.3,299.88 177.49,299.88 177.67,299.89 177.86,299.89 178.05,299.89 178.24,299.89 178.43,299.89 178.62,299.89 178.81,299.89 179,299.89 179.19,299.89 179.37,299.89 179.56,299.89 179.75,299.89 179.94,299.89 180.13,299.9 180.32,299.9 180.51,299.9 180.7,299.9 180.89,299.9 181.07,299.9 181.26,299.9 181.45,299.9 181.64,299.9 181.83,299.9 182.02,299.9 182.21,299.9 182.4,299.9 182.59,299.9 182.77,299.91 182.96,299.91 183.15,299.91 183.34,299.91 183.53,299.91 183.72,299.91 183.91,299.91 184.1,299.91 184.29,299.91 184.47,299.91 184.66,299.91 184.85,299.91 185.04,299.91 185.23,299.91 185.42,299.91 185.61,299.92 185.8,299.92 185.99,299.92 186.17,299.92 186.36,299.92 186.55,299.92 186.74,299.92 186.93,299.92 187.12,299.92 187.31,299.92 187.5,299.92 187.69,299.92 187.87,299.92 188.06,299.92 188.25,299.92 188.44,299.92 188.63,299.93 188.82,299.93 189.01,299.93 189.2,299.93 189.39,299.93 189.57,299.93 189.76,299.93 189.95,299.93 190.14,299.93 190.33,299.93 190.52,299.93 190.71,299.93 190.9,299.93 191.09,299.93 191.28,299.93 191.46,299.93 191.65,299.94 191.84,299.94 192.03,299.94 192.22,299.94 192.41,299.94 192.6,299.94 192.79,299.94 192.98,299.94 193.16,299.94 193.35,299.94 193.54,299.94 193.73,299.94 193.92,299.94 194.11,299.94 194.3,299.94 194.49,299.94 194.68,299.94 194.86,299.94 195.05,299.95 195.24,299.95 195.43,299.95 195.62,299.95 195.81,299.95 196,299.95 196.19,299.95 196.38,299.95 196.56,299.95 196.75,299.95 196.94,299.95 197.13,299.95 197.32,299.95 197.51,299.95 197.7,299.95 197.89,299.95 198.08,299.95 198.26,299.95 198.45,299.95 198.64,299.96 198.83,299.96 199.02,299.96 199.21,299.96 199.4,299.96 199.59,299.96 199.78,299.96 199.96,299.96 200.15,299.96 200.34,299.96 200.53,299.96 200.72,299.96 200.91,299.96 201.1,299.96 201.29,299.96 201.48,299.96 201.66,299.96 201.85,299.96 202.04,299.96 202.23,299.96 202.42,299.96 202.61,299.97 202.8,299.97 202.99,299.97 203.18,299.97 203.36,299.97 203.55,299.97 203.74,299.97 203.93,299.97 204.12,299.97 204.31,299.97 204.5,299.97 204.69,299.97 204.88,299.97 205.06,299.97 205.25,299.97 205.44,299.97 205.63,299.97 205.82,299.97 206.01,299.97 206.2,299.97 206.39,299.97 206.58,299.97 206.76,299.97 206.95,299.98 207.14,299.98 207.33,299.98 207.52,299.98 207.71,299.98 207.9,299.98 208.09,299.98 208.28,299.98 208.46,299.98 208.65,299.98 208.84,299.98 209.03,299.98 209.22,299.98 209.41,299.98 209.6,299.98 209.79,299.98 209.98,299.98 210.16,299.98 210.35,299.98 210.54,299.98 210.73,299.98 210.92,299.98 211.11,299.98 211.3,299.98 211.49,299.99 211.68,299.99 211.87,299.99 212.05,299.99 212.24,299.99 212.43,299.99 212.62,299.99 212.81,299.99 213,299.99 213.19,299.99 213.38,299.99 213.57,299.99 213.75,299.99 213.94,299.99 214.13,299.99 214.32,299.99 214.51,299.99 214.7,299.99 214.89,299.99 215.08,299.99 215.27,299.99 215.45,299.99 215.64,299.99 215.83,299.99 216.02,299.99 216.21,299.99 216.4,299.99 216.59,299.99 216.78,300 216.97,300 217.15,300 217.34,300 217.53,300 217.72,300 217.91,300 218.1,300 218.29,300 218.48,300 218.67,300 218.85,300 219.04,300 219.23,300 219.42,300 219.61,300 219.8,300 219.99,300 220.18,300 220.37,300 220.55,300 220.74,300 220.93,300 221.12,300 221.31,300 221.5,300 221.69,300 221.88,300 222.07,300 222.25,300 222.44,300.01 222.63,300.01 222.82,300.01 223.01,300.01 223.2,300.01 223.39,300.01 223.58,300.01 223.77,300.01 223.95,300.01 224.14,300.01 224.33,300.01 224.52,300.01 224.71,300.01 224.9,300.01 225.09,300.01 225.28,300.01 225.47,300.01 225.65,300.01 225.84,300.01 226.03,300.01 226.22,300.01 226.41,300.01 226.6,300.01 226.79,300.01 226.98,300.01 227.17,300.01 227.35,300.01 227.54,300.01 227.73,300.01 227.92,300.01 228.11,300.01 228.3,300.01 228.49,300.01 228.68,300.01 228.87,300.01 229.06,300.02 229.24,300.02 229.43,300.02 229.62,300.02 229.81,300.02 230,300.02 230.19,300.02 230.38,300.02 230.57,300.02 230.76,300.02 230.94,300.02 231.13,300.02 231.32,300.02 231.51,300.02 231.7,300.02 231.89,300.02 232.08,300.02 232.27,300.02 232.46,300.02 232.64,300.02 232.83,300.02 233.02,300.02 233.21,300.02 233.4,300.02 233.59,300.02 233.78,300.02 233.97,300.02 234.16,300.02 234.34,300.02 234.53,300.02 234.72,300.02 234.91,300.02 235.1,300.02 235.29,300.02 235.48,300.02 235.67,300.02 235.86,300.02 236.04,300.02 236.23,300.02 236.42,300.02 236.61,300.02 236.8,300.03 236.99,300.03 237.18,300.03 237.37,300.03 237.56,300.03 237.74,300.03 237.93,300.03 238.12,300.03 238.31,300.03" fill="none" stroke="#ff3b3b" stroke-width="1.2" stroke-linejoin="round" stroke-dasharray="2.5 2.2"/>
<polyline points="423.97,13.22 436.75,17.36 444.22,19.51 449.52,21.26 453.63,22.78 456.99,24.1 459.83,25.29 462.29,26.35 464.47,27.33 466.41,28.22 468.16,29.04 469.77,29.82 471.24,30.54 472.61,31.22 473.88,31.87 475.07,32.49 476.19,33.08 477.24,33.65 478.24,34.2 479.18,34.72 480.08,35.23 480.94,35.73 481.76,36.21 482.54,36.67 483.29,15.29 484.02,37.57 484.71,38 485.38,38.42 486.03,38.83 486.65,39.24 487.26,39.63 487.84,40.02 488.41,40.4 488.96,40.77 489.49,41.14 490.01,41.5 490.52,41.89 491.01,42.18 491.49,42.54 491.95,42.9 492.41,43.1 492.85,43.53 493.29,43.91 493.71,44.17 494.13,44.58 494.53,44.87 494.93,45.06 495.31,45.46 495.69,45.75 496.07,38.85 496.43,46.14 496.79,46.41 497.14,46.73 497.48,47.01 497.82,47.02 498.16,47.67 498.48,47.36 498.8,48.5 499.12,48.54 499.43,49.22 499.73,49.09 500.03,48.99 500.33,48.82 500.62,50.01 500.9,49.94 501.18,50.36 501.46,50.8 501.73,51.3 502,50.84 502.27,52.13 502.53,51.26 502.79,51.54 503.04,52.2 503.29,52.67 503.54,44.65 503.78,51.07 504.02,53.62 504.26,51.64 504.5,52.56 504.73,53.53 504.96,54.39 505.18,52.75 505.41,52.33 505.63,54.85 505.85,54.49 506.06,53.43 506.27,54.27 506.48,52.88 506.69,55.5 506.9,54.61 507.1,56.54 507.3,53.4 507.5,56.4 507.7,58.08 507.9,56.13 508.09,56.32 508.28,54.32 508.47,56.86 508.66,56.68 508.84,44.65 509.02,55.24 509.21,57.21 509.39,56.12 509.56,56.86 509.74,57.94 509.91,57.66 510.09,57.86 510.26,59.12 510.43,56.73 510.6,59.99 510.76,57.04 510.93,57.43 511.09,58.86 511.26,59.83 511.42,59.3 511.58,58.54 511.73,58.32 511.89,59.03 512.05,58.23 512.2,60.39 512.35,59.47 512.5,62.01 512.66,58.99 512.8,59.93 512.95,47.19 513.1,58.76 513.25,59.52 513.39,64.58 513.53,60.66 513.68,62.91 513.82,59.39 513.96,57.42 514.1,61.91 514.23,61.14 514.37,61.73 514.51,60.93 514.64,60.59 514.78,59.7 514.91,63.27 515.04,59.43 515.17,63.4 515.3,61.61 515.43,60.31 515.56,61.09 515.69,63.82 515.81,63.54 515.94,63.24 516.07,62.66 516.19,60.78 516.31,48.64 516.43,62.05 516.56,61.89 516.68,62.05 516.8,62.28 516.92,60.55 517.04,62.38 517.15,61.81 517.27,62.39 517.39,60.3 517.5,66.87 517.62,61.31 517.73,64.12 517.84,64.23 517.96,65.54 518.07,67.26 518.18,64.62 518.29,65.25 518.4,63.13 518.51,66.85 518.62,61.49 518.73,63.72 518.83,64.76 518.94,65.69 519.05,65.91 519.15,50.09 519.26,65.56 519.36,64.55 519.47,64.96 519.57,67.45 519.67,65.24 519.77,66.54 519.88,64.49 519.98,61.1 520.08,63.63 520.18,65.58 520.28,68.31 520.38,67.94 520.47,68.56 520.57,63.6 520.67,66.75 520.77,65.06 520.86,66.54 520.96,65.07 521.05,62.32 521.15,66.8 521.24,66.1 521.34,67.15 521.43,63.54 521.52,67.7 521.61,67.98 521.71,68.58 521.8,68.67 521.89,64.53 521.98,59.87 522.07,67.87 522.16,63.51 522.25,65.11 522.34,68.22 522.43,66.36 522.51,66.28 522.6,67.36 522.69,61.31 522.77,70.25 522.86,64.93 522.95,65.06 523.03,67.23 523.12,65.52 523.2,63.8 523.29,65.54 523.37,64.91 523.45,64.26 523.54,70.86 523.62,62.35 523.7,60.39 523.78,63.56 523.87,63.48 523.95,69.47 524.03,66.29 524.11,68.02 524.19,67.47 524.27,63.57 524.35,68.04 524.43,66.34 524.51,70.88 524.59,66.42 524.66,65.79 524.74,67.83 524.82,67.88 524.9,61.11 524.97,69.17 525.05,68.75 525.13,68.12 525.2,62.87 525.28,60.51 525.35,59.88 525.43,67.85 525.5,67.09 525.58,63.19 525.65,68.33 525.73,62.15" fill="none" stroke="#42a0ff" stroke-width="0.95" stroke-linejoin="round"/>
<polyline points="423.97,114.9 436.75,119.03 444.22,121.17 449.52,122.92 453.63,124.43 456.99,125.75 459.83,126.93 462.29,128 464.47,128.96 466.41,129.85 468.16,130.68 469.77,131.45 471.24,132.17 472.61,132.85 473.88,133.5 475.07,134.12 476.19,134.71 477.24,135.27 478.24,135.82 479.18,136.34 480.08,136.85 480.94,137.34 481.76,137.82 482.54,138.29 483.29,124.91 484.02,139.18 484.71,139.61 485.38,140.03 486.03,140.44 486.65,140.84 487.26,141.24 487.84,141.62 488.41,142 488.96,142.37 489.49,142.74 490.01,143.09 490.52,143.44 491.01,143.77 491.49,144.2 491.95,144.49 492.41,144.83 492.85,145.12 493.29,145.49 493.71,145.81 494.13,146.01 494.53,146.37 494.93,146.81 495.31,146.84 495.69,147.17 496.07,158.53 496.43,147.73 496.79,148.28 497.14,148.19 497.48,148.75 497.82,149.18 498.16,149.35 498.48,149.74 498.8,149.71 499.12,149.97 499.43,150.27 499.73,150.76 500.03,152.31 500.33,150.99 500.62,152.15 500.9,151.4 501.18,151.19 501.46,151.85 501.73,152.44 502,152.56 502.27,152.76 502.53,153.24 502.79,153.49 503.04,153.95 503.29,152.76 503.54,164.32 503.78,153.3 504.02,154.38 504.26,154.35 504.5,154.74 504.73,154.43 504.96,154.32 505.18,155 505.41,155.98 505.63,156.28 505.85,154.27 506.06,156.22 506.27,156.42 506.48,154.95 506.69,155.48 506.9,156.18 507.1,157.27 507.3,154.72 507.5,156.83 507.7,156.84 507.9,157.74 508.09,159.2 508.28,159.3 508.47,157.63 508.66,157.8 508.84,158.64 509.02,159.83 509.21,160.3 509.39,159.22 509.56,160.65 509.74,158.12 509.91,157.97 510.09,156.14 510.26,158.56 510.43,160.44 510.6,160.93 510.76,164.21 510.93,160.89 511.09,160.51 511.26,159.22 511.42,159.79 511.58,159.95 511.73,160.55 511.89,160.1 512.05,159.19 512.2,162.61 512.35,161.94 512.5,163.31 512.66,159.38 512.8,159.92 512.95,160.77 513.1,163.58 513.25,161.8 513.39,162.48 513.53,162.15 513.68,162.64 513.82,161.73 513.96,163.16 514.1,161.45 514.23,162.44 514.37,163.34 514.51,163.17 514.64,163.77 514.78,161.97 514.91,163.72 515.04,162.94 515.17,164.1 515.3,165.91 515.43,162.25 515.56,165.45 515.69,162.78 515.81,163.27 515.94,166.72 516.07,165.66 516.19,165.05 516.31,157.09 516.43,166.34 516.56,163.21 516.68,164.94 516.8,163.96 516.92,165.42 517.04,164.24 517.15,166.14 517.27,164.96 517.39,163.97 517.5,164.98 517.62,165.94 517.73,167.13 517.84,164.96 517.96,164.71 518.07,165.86 518.18,166.86 518.29,164.53 518.4,161 518.51,166.21 518.62,165.08 518.73,165.06 518.83,170.67 518.94,165.64 519.05,167.29 519.15,155.64 519.26,166.53 519.36,167.61 519.47,166.58 519.57,165.87 519.67,167.35 519.77,166.4 519.88,169.05 519.98,166.84 520.08,164.87 520.18,162.49 520.28,165.08 520.38,166.01 520.47,164.17 520.57,164.54 520.67,163.22 520.77,164.46 520.86,167.01 520.96,166.25 521.05,166.46 521.15,166.23 521.24,166.47 521.34,168.62 521.43,171.53 521.52,168.46 521.61,171.46 521.71,166.91 521.8,167.08 521.89,170.83 521.98,165.61 522.07,165.23 522.16,166.98 522.25,163.45 522.34,162.99 522.43,170.01 522.51,164.91 522.6,166.29 522.69,166.36 522.77,165.17 522.86,169.04 522.95,168.77 523.03,169.34 523.12,169.19 523.2,167.66 523.29,170.9 523.37,169.96 523.45,166.07 523.54,167.64 523.62,166.55 523.7,172.1 523.78,169.42 523.87,168.88 523.95,167.44 524.03,168.98 524.11,165.21 524.19,167.68 524.27,167.5 524.35,167.51 524.43,165.75 524.51,168.75 524.59,164.69 524.66,166.37 524.74,167.15 524.82,167.44 524.9,166.2 524.97,164.9 525.05,165.08 525.13,166.56 525.2,165.25 525.28,167.22 525.35,164.26 525.43,167.58 525.5,172.91 525.58,164.02 525.65,167.21 525.73,170.53" fill="none" stroke="#42a0ff" stroke-width="0.95" stroke-linejoin="round"/>
<polyline points="351.01,221.82 370.01,228.04 381.13,231.28 389.02,233.92 395.13,236.2 400.13,238.2 404.36,239.98 408.02,241.58 411.25,243.04 414.14,244.39 416.75,245.63 419.14,246.79 421.33,247.88 423.36,248.91 425.26,249.89 427.03,250.82 428.69,251.71 430.25,252.56 431.74,253.38 433.14,254.18 434.48,254.94 435.76,255.69 436.98,256.41 438.14,257.11 439.26,257.79 440.34,258.46 441.37,259.1 442.37,259.74 443.33,260.36 444.26,260.97 445.16,261.56 446.03,262.14 446.87,262.72 447.69,263.28 448.49,263.83 449.26,264.38 450.01,264.9 450.74,265.39 451.45,265.97 452.15,266.42 452.83,266.91 453.49,267.53 454.13,267.9 454.76,268.5 455.38,268.75 455.98,269.28 456.57,269.79 457.15,270.45 457.71,270.67 458.27,271.26 458.81,271.41 459.34,272.02 459.86,272.64 460.38,272.54 460.88,272.99 461.37,273.87 461.86,273.57 462.34,274.57 462.8,274.98 463.27,275.15 463.72,276 464.16,276.22 464.6,276.44 465.04,275.76 465.46,276.1 465.88,277.61 466.29,276.64 466.7,278.17 467.1,278.19 467.49,278.12 467.88,278.92 468.26,277.43 468.64,279.61 469.02,281.26 469.38,279.24 469.75,281.2 470.11,281.42 470.46,284.51 470.81,280.67 471.15,281.14 471.49,281.44 471.83,281.51 472.16,280.94 472.49,283.27 472.82,282.35 473.14,284.72 473.45,284.52 473.77,282.99 474.08,284.11 474.38,286.64 474.69,284.68 474.99,285.67 475.28,286.8 475.58,285.35 475.87,286.76 476.15,288.67 476.44,288.29 476.72,284.4 477,289.4 477.27,287.1 477.54,286.76 477.81,286.94 478.08,290.01 478.35,288.86 478.61,288.38 478.87,287.56 479.13,290.06 479.38,291.12 479.63,287.86 479.88,287.89 480.13,289.29 480.38,291.12 480.62,289.63 480.86,290.34 481.1,289.29 481.34,293.08 481.58,290.92 481.81,291.59 482.04,293.47 482.27,291.31 482.5,291.82 482.72,292.81 482.95,291.52 483.17,295.05 483.39,292.7 483.61,291.97 483.83,292.41 484.04,291.06 484.25,295.6 484.47,296.38 484.68,293.15 484.88,292.89 485.09,289.73 485.3,292.87 485.5,296.02 485.7,292.77 485.9,296.29 486.1,297.78 486.3,289.44 486.5,294.32 486.69,293.64 486.89,294.09 487.08,291.55 487.27,294.95 487.46,293.06 487.65,298.08 487.83,299.02 488.02,292.94 488.21,292.94 488.39,295.2 488.57,295.96 488.75,296.22 488.93,298.29 489.11,293.29 489.29,295.42 489.46,295.88 489.64,296.29 489.81,294.81 489.99,296.2 490.16,295.72 490.33,300.42 490.5,296.48 490.67,292.49 490.84,299.19 491,298.33 491.17,295.9 491.33,295.82 491.5,296.74 491.66,302.48 491.82,297.21 491.98,301.6 492.14,300.78 492.3,297.33 492.46,299.6 492.62,296.8 492.77,290.73 492.93,297.02 493.08,297.23 493.24,301.62 493.39,301.03 493.54,302.24 493.69,300.89 493.84,302.49 493.99,301.39 494.14,300.23 494.29,302.49 494.43,303.73 494.58,303.65 494.73,298.63 494.87,299.8 495.01,297.11 495.16,297.1 495.3,301.11 495.44,298.26 495.58,304.42 495.72,293.64 495.86,296.84 496,301.02 496.14,303.88 496.28,299.35 496.41,306.11 496.55,302.91 496.68,298.36 496.82,300.42 496.95,302.18 497.09,297.82 497.22,303.95 497.35,299.92 497.48,302.38 497.61,303.5 497.74,299.45 497.87,304.04 498,294.95 498.13,302.83 498.26,294.67 498.39,304.53 498.51,299.11 498.64,304.95 498.77,305.44 498.89,300.6 499.01,298.92 499.14,305.33 499.26,297.26 499.38,303.82 499.51,300.76 499.63,299.94 499.75,299.23 499.87,307.28 499.99,295.77 500.11,299.34 500.23,302.7 500.35,304.76 500.46,307.08 500.58,305.96 500.7,299.38 500.81,302.45 500.93,305.22 501.05,303.11 501.16,295.76 501.28,302.43 501.39,303.32 501.5,296.47 501.62,299.61 501.73,301.08 501.84,303.37 501.95,306.7 502.06,305.34 502.17,302.89 502.29,301.95 502.39,299.9" fill="none" stroke="#42a0ff" stroke-width="1.1" stroke-linejoin="round"/>
<rect x="158" y="214.2" width="80" height="23.8" fill="#fff"/>
<line x1="165.1" y1="221.5" x2="178.2" y2="221.5" stroke="#0a84ff" stroke-width="1.2"/>
<line x1="165.1" y1="231.4" x2="178.4" y2="231.4" stroke="#ff3b3b" stroke-width="1.2" stroke-dasharray="2.6 2.8"/>
<text transform="translate(181.5 223.8) scale(0.1)" font-size="70" text-anchor="start" fill="#3a3a3a" font-weight="normal" font-family="'Liberation Sans', Arial, sans-serif" stroke="#3a3a3a" stroke-width="0.7" textLength="405" lengthAdjust="spacingAndGlyphs">After Stacking</text>
<text transform="translate(181.5 233.6) scale(0.1)" font-size="70" text-anchor="start" fill="#3a3a3a" font-weight="normal" font-family="'Liberation Sans', Arial, sans-serif" stroke="#3a3a3a" stroke-width="0.7" textLength="534" lengthAdjust="spacingAndGlyphs">1D Forward Signal</text>
</svg>
</body></html>
